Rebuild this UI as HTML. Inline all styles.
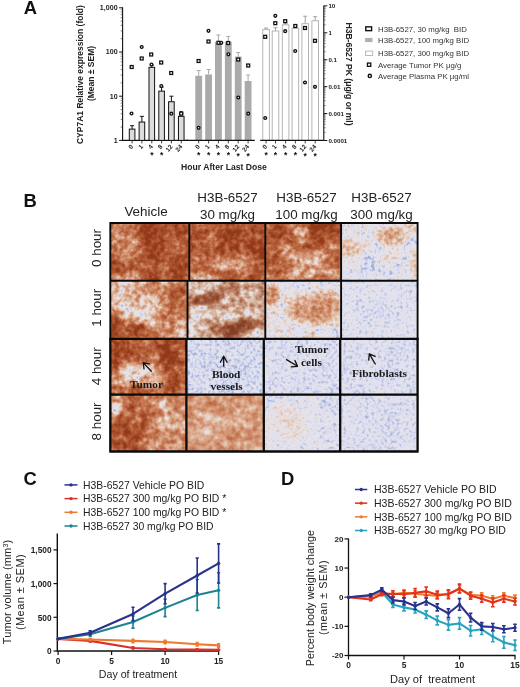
<!DOCTYPE html>
<html><head><meta charset="utf-8"><title>Figure</title>
<style>html,body{margin:0;padding:0;background:#fff}svg{display:block}</style></head>
<body>
<svg width="520" height="687" viewBox="0 0 520 687">
<rect width="520" height="687" fill="#fff"/>
<g id="panelA">
<text x="23.7" y="14.3" font-family="Liberation Sans, Arial, sans-serif" font-size="18.4" font-weight="bold" fill="#111">A</text>
<path d="M122.6 7.3V140.40000000000003H188" stroke="#111" stroke-width="1.1" fill="none"/>
<path d="M119.1 7.80H122.6" stroke="#111" stroke-width="1"/>
<text x="117.6" y="10.20" font-family="Liberation Sans, Arial, sans-serif" font-size="7.1" font-weight="bold" text-anchor="end" fill="#222">1,000</text>
<path d="M119.1 52.00H122.6" stroke="#111" stroke-width="1"/>
<text x="117.6" y="54.40" font-family="Liberation Sans, Arial, sans-serif" font-size="7.1" font-weight="bold" text-anchor="end" fill="#222">100</text>
<path d="M119.1 96.20H122.6" stroke="#111" stroke-width="1"/>
<text x="117.6" y="98.60" font-family="Liberation Sans, Arial, sans-serif" font-size="7.1" font-weight="bold" text-anchor="end" fill="#222">10</text>
<path d="M119.1 140.40H122.6" stroke="#111" stroke-width="1"/>
<text x="117.6" y="142.80" font-family="Liberation Sans, Arial, sans-serif" font-size="7.1" font-weight="bold" text-anchor="end" fill="#222">1</text>
<path d="M120.6 127.09H122.6M120.6 119.31H122.6M120.6 113.79H122.6M120.6 109.51H122.6M120.6 106.01H122.6M120.6 103.05H122.6M120.6 100.48H122.6M120.6 98.22H122.6M120.6 82.89H122.6M120.6 75.11H122.6M120.6 69.59H122.6M120.6 65.31H122.6M120.6 61.81H122.6M120.6 58.85H122.6M120.6 56.28H122.6M120.6 54.02H122.6M120.6 38.69H122.6M120.6 30.91H122.6M120.6 25.39H122.6M120.6 21.11H122.6M120.6 17.61H122.6M120.6 14.65H122.6M120.6 12.08H122.6M120.6 9.82H122.6" stroke="#333" stroke-width="0.6"/>
<text transform="translate(82.6,74.6) rotate(-90)" font-family="Liberation Sans, Arial, sans-serif" font-size="8.5" font-weight="bold" text-anchor="middle" fill="#222">CYP7A1 Relative expression (fold)</text>
<text transform="translate(94.1,73.5) rotate(-90)" font-family="Liberation Sans, Arial, sans-serif" font-size="8.5" font-weight="bold" text-anchor="middle" fill="#222">(Mean ± SEM)</text>
<path d="M132.10 129.12V125.71M130.10 125.71H134.10" stroke="#111" stroke-width="1"/>
<rect x="129.30" y="129.12" width="5.6" height="11.28" fill="#dcdcdc" stroke="#111" stroke-width="1"/>
<path d="M141.90 122.06V116.35M139.90 116.35H143.90" stroke="#111" stroke-width="1"/>
<rect x="139.10" y="122.06" width="5.6" height="18.34" fill="#dcdcdc" stroke="#111" stroke-width="1"/>
<path d="M151.80 67.33V65.31M149.80 65.31H153.80" stroke="#111" stroke-width="1"/>
<rect x="149.00" y="67.33" width="5.6" height="73.07" fill="#dcdcdc" stroke="#111" stroke-width="1"/>
<path d="M161.60 91.16V87.18M159.60 87.18H163.60" stroke="#111" stroke-width="1"/>
<rect x="158.80" y="91.16" width="5.6" height="49.24" fill="#dcdcdc" stroke="#111" stroke-width="1"/>
<path d="M171.40 101.72V96.20M169.40 96.20H173.40" stroke="#111" stroke-width="1"/>
<rect x="168.60" y="101.72" width="5.6" height="38.68" fill="#dcdcdc" stroke="#111" stroke-width="1"/>
<path d="M181.25 116.35V113.79M179.25 113.79H183.25" stroke="#111" stroke-width="1"/>
<rect x="178.45" y="116.35" width="5.6" height="24.05" fill="#dcdcdc" stroke="#111" stroke-width="1"/>
<path d="M198.70 75.80V70.50M196.70 70.50H200.70" stroke="#a9a9a9" stroke-width="1"/>
<rect x="195.30" y="75.80" width="6.8" height="64.60" fill="#aaaaaa"/>
<path d="M208.60 74.50V69.50M206.60 69.50H210.60" stroke="#a9a9a9" stroke-width="1"/>
<rect x="205.20" y="74.50" width="6.8" height="65.90" fill="#aaaaaa"/>
<path d="M218.40 41.80V35.00M216.40 35.00H220.40" stroke="#a9a9a9" stroke-width="1"/>
<rect x="215.00" y="41.80" width="6.8" height="98.60" fill="#aaaaaa"/>
<path d="M228.30 41.80V36.40M226.30 36.40H230.30" stroke="#a9a9a9" stroke-width="1"/>
<rect x="224.90" y="41.80" width="6.8" height="98.60" fill="#aaaaaa"/>
<path d="M238.20 56.60V52.50M236.20 52.50H240.20" stroke="#a9a9a9" stroke-width="1"/>
<rect x="234.80" y="56.60" width="6.8" height="83.80" fill="#aaaaaa"/>
<path d="M248.10 81.00V75.00M246.10 75.00H250.10" stroke="#a9a9a9" stroke-width="1"/>
<rect x="244.70" y="81.00" width="6.8" height="59.40" fill="#aaaaaa"/>
<path d="M266.10 29.60V28.00M264.10 28.00H268.10" stroke="#a0a0a0" stroke-width="1"/>
<rect x="262.80" y="29.60" width="6.6" height="110.80" fill="#fff" stroke="#adadad" stroke-width="0.9"/>
<path d="M275.50 31.00V27.70M273.50 27.70H277.50" stroke="#a0a0a0" stroke-width="1"/>
<rect x="272.20" y="31.00" width="6.6" height="109.40" fill="#fff" stroke="#adadad" stroke-width="0.9"/>
<path d="M285.60 24.80V22.90M283.60 22.90H287.60" stroke="#a0a0a0" stroke-width="1"/>
<rect x="282.30" y="24.80" width="6.6" height="115.60" fill="#fff" stroke="#adadad" stroke-width="0.9"/>
<path d="M295.40 28.30V26.50M293.40 26.50H297.40" stroke="#a0a0a0" stroke-width="1"/>
<rect x="292.10" y="28.30" width="6.6" height="112.10" fill="#fff" stroke="#adadad" stroke-width="0.9"/>
<path d="M305.20 23.70V16.20M303.20 16.20H307.20" stroke="#a0a0a0" stroke-width="1"/>
<rect x="301.90" y="23.70" width="6.6" height="116.70" fill="#fff" stroke="#adadad" stroke-width="0.9"/>
<path d="M315.20 20.70V16.70M313.20 16.70H317.20" stroke="#a0a0a0" stroke-width="1"/>
<rect x="311.90" y="20.70" width="6.6" height="119.70" fill="#fff" stroke="#adadad" stroke-width="0.9"/>
<path d="M186 140.40000000000003H254.8M260.2 140.40000000000003H323.8" stroke="#111" stroke-width="1.1"/>
<path d="M323.8 5.4V140.40000000000003" stroke="#111" stroke-width="1.1"/>
<path d="M323.8 5.90H327.3" stroke="#111" stroke-width="1"/>
<text x="328.40000000000003" y="8.10" font-family="Liberation Sans, Arial, sans-serif" font-size="6.2" font-weight="bold" fill="#222">10</text>
<path d="M323.8 32.82H327.3" stroke="#111" stroke-width="1"/>
<text x="328.40000000000003" y="35.02" font-family="Liberation Sans, Arial, sans-serif" font-size="6.2" font-weight="bold" fill="#222">1</text>
<path d="M323.8 59.74H327.3" stroke="#111" stroke-width="1"/>
<text x="328.40000000000003" y="61.94" font-family="Liberation Sans, Arial, sans-serif" font-size="6.2" font-weight="bold" fill="#222">0.1</text>
<path d="M323.8 86.66H327.3" stroke="#111" stroke-width="1"/>
<text x="328.40000000000003" y="88.86" font-family="Liberation Sans, Arial, sans-serif" font-size="6.2" font-weight="bold" fill="#222">0.01</text>
<path d="M323.8 113.58H327.3" stroke="#111" stroke-width="1"/>
<text x="328.40000000000003" y="115.78" font-family="Liberation Sans, Arial, sans-serif" font-size="6.2" font-weight="bold" fill="#222">0.001</text>
<path d="M323.8 140.50H327.3" stroke="#111" stroke-width="1"/>
<text x="328.40000000000003" y="142.70" font-family="Liberation Sans, Arial, sans-serif" font-size="6.2" font-weight="bold" fill="#222">0.0001</text>
<path d="M323.8 132.40H325.8M323.8 127.66H325.8M323.8 124.29H325.8M323.8 121.68H325.8M323.8 119.55H325.8M323.8 117.75H325.8M323.8 116.19H325.8M323.8 114.81H325.8M323.8 105.48H325.8M323.8 100.74H325.8M323.8 97.37H325.8M323.8 94.76H325.8M323.8 92.63H325.8M323.8 90.83H325.8M323.8 89.27H325.8M323.8 87.89H325.8M323.8 78.56H325.8M323.8 73.82H325.8M323.8 70.45H325.8M323.8 67.84H325.8M323.8 65.71H325.8M323.8 63.91H325.8M323.8 62.35H325.8M323.8 60.97H325.8M323.8 51.64H325.8M323.8 46.90H325.8M323.8 43.53H325.8M323.8 40.92H325.8M323.8 38.79H325.8M323.8 36.99H325.8M323.8 35.43H325.8M323.8 34.05H325.8M323.8 24.72H325.8M323.8 19.98H325.8M323.8 16.61H325.8M323.8 14.00H325.8M323.8 11.87H325.8M323.8 10.07H325.8M323.8 8.51H325.8M323.8 7.13H325.8" stroke="#333" stroke-width="0.5"/>
<text transform="translate(346.4,74) rotate(90)" font-family="Liberation Sans, Arial, sans-serif" font-size="8.6" font-weight="bold" text-anchor="middle" fill="#222">H3B-6527 PK (μg/g or ml)</text>
<path d="M132.10 140.40000000000003v3" stroke="#111" stroke-width="0.8"/>
<text transform="translate(133.60,146.90) rotate(-50)" font-family="Liberation Sans, Arial, sans-serif" font-size="6.3" font-weight="bold" text-anchor="end" fill="#222">0</text>
<path d="M141.90 140.40000000000003v3" stroke="#111" stroke-width="0.8"/>
<text transform="translate(143.40,146.90) rotate(-50)" font-family="Liberation Sans, Arial, sans-serif" font-size="6.3" font-weight="bold" text-anchor="end" fill="#222">1</text>
<path d="M151.80 140.40000000000003v3" stroke="#111" stroke-width="0.8"/>
<text transform="translate(153.30,146.90) rotate(-50)" font-family="Liberation Sans, Arial, sans-serif" font-size="6.3" font-weight="bold" text-anchor="end" fill="#222">4</text>
<text x="151.80" y="157.70" font-family="Liberation Sans, Arial, sans-serif" font-size="8.5" font-weight="bold" text-anchor="middle" fill="#111">*</text>
<path d="M161.60 140.40000000000003v3" stroke="#111" stroke-width="0.8"/>
<text transform="translate(163.10,146.90) rotate(-50)" font-family="Liberation Sans, Arial, sans-serif" font-size="6.3" font-weight="bold" text-anchor="end" fill="#222">8</text>
<text x="161.60" y="157.70" font-family="Liberation Sans, Arial, sans-serif" font-size="8.5" font-weight="bold" text-anchor="middle" fill="#111">*</text>
<path d="M171.40 140.40000000000003v3" stroke="#111" stroke-width="0.8"/>
<text transform="translate(172.90,146.90) rotate(-50)" font-family="Liberation Sans, Arial, sans-serif" font-size="6.3" font-weight="bold" text-anchor="end" fill="#222">12</text>
<path d="M181.25 140.40000000000003v3" stroke="#111" stroke-width="0.8"/>
<text transform="translate(182.75,146.90) rotate(-50)" font-family="Liberation Sans, Arial, sans-serif" font-size="6.3" font-weight="bold" text-anchor="end" fill="#222">24</text>
<path d="M198.70 140.40000000000003v3" stroke="#111" stroke-width="0.8"/>
<text transform="translate(200.20,146.90) rotate(-50)" font-family="Liberation Sans, Arial, sans-serif" font-size="6.3" font-weight="bold" text-anchor="end" fill="#222">0</text>
<text x="198.70" y="157.70" font-family="Liberation Sans, Arial, sans-serif" font-size="8.5" font-weight="bold" text-anchor="middle" fill="#111">*</text>
<path d="M208.60 140.40000000000003v3" stroke="#111" stroke-width="0.8"/>
<text transform="translate(210.10,146.90) rotate(-50)" font-family="Liberation Sans, Arial, sans-serif" font-size="6.3" font-weight="bold" text-anchor="end" fill="#222">1</text>
<text x="208.60" y="157.70" font-family="Liberation Sans, Arial, sans-serif" font-size="8.5" font-weight="bold" text-anchor="middle" fill="#111">*</text>
<path d="M218.40 140.40000000000003v3" stroke="#111" stroke-width="0.8"/>
<text transform="translate(219.90,146.90) rotate(-50)" font-family="Liberation Sans, Arial, sans-serif" font-size="6.3" font-weight="bold" text-anchor="end" fill="#222">4</text>
<text x="218.40" y="157.70" font-family="Liberation Sans, Arial, sans-serif" font-size="8.5" font-weight="bold" text-anchor="middle" fill="#111">*</text>
<path d="M228.30 140.40000000000003v3" stroke="#111" stroke-width="0.8"/>
<text transform="translate(229.80,146.90) rotate(-50)" font-family="Liberation Sans, Arial, sans-serif" font-size="6.3" font-weight="bold" text-anchor="end" fill="#222">8</text>
<text x="228.30" y="157.70" font-family="Liberation Sans, Arial, sans-serif" font-size="8.5" font-weight="bold" text-anchor="middle" fill="#111">*</text>
<path d="M238.20 140.40000000000003v3" stroke="#111" stroke-width="0.8"/>
<text transform="translate(239.70,146.90) rotate(-50)" font-family="Liberation Sans, Arial, sans-serif" font-size="6.3" font-weight="bold" text-anchor="end" fill="#222">12</text>
<text x="238.20" y="158.90" font-family="Liberation Sans, Arial, sans-serif" font-size="8.5" font-weight="bold" text-anchor="middle" fill="#111">*</text>
<path d="M248.10 140.40000000000003v3" stroke="#111" stroke-width="0.8"/>
<text transform="translate(249.60,146.90) rotate(-50)" font-family="Liberation Sans, Arial, sans-serif" font-size="6.3" font-weight="bold" text-anchor="end" fill="#222">24</text>
<text x="248.10" y="158.90" font-family="Liberation Sans, Arial, sans-serif" font-size="8.5" font-weight="bold" text-anchor="middle" fill="#111">*</text>
<path d="M266.10 140.40000000000003v3" stroke="#111" stroke-width="0.8"/>
<text transform="translate(267.60,146.90) rotate(-50)" font-family="Liberation Sans, Arial, sans-serif" font-size="6.3" font-weight="bold" text-anchor="end" fill="#222">0</text>
<text x="266.10" y="157.70" font-family="Liberation Sans, Arial, sans-serif" font-size="8.5" font-weight="bold" text-anchor="middle" fill="#111">*</text>
<path d="M275.50 140.40000000000003v3" stroke="#111" stroke-width="0.8"/>
<text transform="translate(277.00,146.90) rotate(-50)" font-family="Liberation Sans, Arial, sans-serif" font-size="6.3" font-weight="bold" text-anchor="end" fill="#222">1</text>
<text x="275.50" y="157.70" font-family="Liberation Sans, Arial, sans-serif" font-size="8.5" font-weight="bold" text-anchor="middle" fill="#111">*</text>
<path d="M285.60 140.40000000000003v3" stroke="#111" stroke-width="0.8"/>
<text transform="translate(287.10,146.90) rotate(-50)" font-family="Liberation Sans, Arial, sans-serif" font-size="6.3" font-weight="bold" text-anchor="end" fill="#222">4</text>
<text x="285.60" y="157.70" font-family="Liberation Sans, Arial, sans-serif" font-size="8.5" font-weight="bold" text-anchor="middle" fill="#111">*</text>
<path d="M295.40 140.40000000000003v3" stroke="#111" stroke-width="0.8"/>
<text transform="translate(296.90,146.90) rotate(-50)" font-family="Liberation Sans, Arial, sans-serif" font-size="6.3" font-weight="bold" text-anchor="end" fill="#222">8</text>
<text x="295.40" y="157.70" font-family="Liberation Sans, Arial, sans-serif" font-size="8.5" font-weight="bold" text-anchor="middle" fill="#111">*</text>
<path d="M305.20 140.40000000000003v3" stroke="#111" stroke-width="0.8"/>
<text transform="translate(306.70,146.90) rotate(-50)" font-family="Liberation Sans, Arial, sans-serif" font-size="6.3" font-weight="bold" text-anchor="end" fill="#222">12</text>
<text x="305.20" y="158.90" font-family="Liberation Sans, Arial, sans-serif" font-size="8.5" font-weight="bold" text-anchor="middle" fill="#111">*</text>
<path d="M315.20 140.40000000000003v3" stroke="#111" stroke-width="0.8"/>
<text transform="translate(316.70,146.90) rotate(-50)" font-family="Liberation Sans, Arial, sans-serif" font-size="6.3" font-weight="bold" text-anchor="end" fill="#222">24</text>
<text x="315.20" y="158.90" font-family="Liberation Sans, Arial, sans-serif" font-size="8.5" font-weight="bold" text-anchor="middle" fill="#111">*</text>
<text x="223.9" y="169.7" font-family="Liberation Sans, Arial, sans-serif" font-size="8.6" font-weight="bold" text-anchor="middle" fill="#222">Hour After Last Dose</text>
<rect x="130.25" y="65.55" width="2.9" height="2.9" fill="#fff" stroke="#111" stroke-width="1.3"/>
<rect x="140.25" y="57.05" width="2.9" height="2.9" fill="#fff" stroke="#111" stroke-width="1.3"/>
<rect x="149.75" y="53.05" width="2.9" height="2.9" fill="#fff" stroke="#111" stroke-width="1.3"/>
<rect x="159.75" y="61.05" width="2.9" height="2.9" fill="#fff" stroke="#111" stroke-width="1.3"/>
<rect x="169.75" y="71.55" width="2.9" height="2.9" fill="#fff" stroke="#111" stroke-width="1.3"/>
<circle cx="181.20" cy="113.20" r="1.38" fill="#fff" stroke="#111" stroke-width="1.4"/>
<rect x="179.70" y="112.10" width="3.0" height="3.0" fill="#fff" stroke="#111" stroke-width="1.3"/>
<circle cx="131.50" cy="113.50" r="1.38" fill="#fff" stroke="#111" stroke-width="1.4"/>
<circle cx="141.70" cy="47.00" r="1.38" fill="#fff" stroke="#111" stroke-width="1.4"/>
<circle cx="151.50" cy="64.50" r="1.38" fill="#fff" stroke="#111" stroke-width="1.4"/>
<circle cx="161.30" cy="86.00" r="1.38" fill="#fff" stroke="#111" stroke-width="1.4"/>
<circle cx="171.30" cy="113.70" r="1.38" fill="#fff" stroke="#111" stroke-width="1.4"/>
<rect x="197.15" y="59.55" width="2.9" height="2.9" fill="#fff" stroke="#111" stroke-width="1.3"/>
<rect x="207.05" y="40.05" width="2.9" height="2.9" fill="#fff" stroke="#111" stroke-width="1.3"/>
<rect x="217.05" y="41.35" width="2.9" height="2.9" fill="#fff" stroke="#111" stroke-width="1.3"/>
<rect x="226.75" y="41.55" width="2.9" height="2.9" fill="#fff" stroke="#111" stroke-width="1.3"/>
<rect x="236.75" y="58.05" width="2.9" height="2.9" fill="#fff" stroke="#111" stroke-width="1.3"/>
<rect x="246.75" y="64.05" width="2.9" height="2.9" fill="#fff" stroke="#111" stroke-width="1.3"/>
<circle cx="198.60" cy="127.80" r="1.38" fill="#fff" stroke="#111" stroke-width="1.4"/>
<circle cx="208.50" cy="30.80" r="1.38" fill="#fff" stroke="#111" stroke-width="1.4"/>
<circle cx="221.30" cy="42.80" r="1.38" fill="#fff" stroke="#111" stroke-width="1.4"/>
<circle cx="228.40" cy="54.30" r="1.38" fill="#fff" stroke="#111" stroke-width="1.4"/>
<circle cx="238.30" cy="97.50" r="1.38" fill="#fff" stroke="#111" stroke-width="1.4"/>
<circle cx="248.20" cy="113.70" r="1.38" fill="#fff" stroke="#111" stroke-width="1.4"/>
<rect x="263.75" y="35.35" width="2.9" height="2.9" fill="#fff" stroke="#111" stroke-width="1.3"/>
<rect x="273.85" y="21.75" width="2.9" height="2.9" fill="#fff" stroke="#111" stroke-width="1.3"/>
<rect x="283.75" y="19.75" width="2.9" height="2.9" fill="#fff" stroke="#111" stroke-width="1.3"/>
<rect x="293.85" y="24.55" width="2.9" height="2.9" fill="#fff" stroke="#111" stroke-width="1.3"/>
<rect x="303.55" y="26.55" width="2.9" height="2.9" fill="#fff" stroke="#111" stroke-width="1.3"/>
<rect x="313.55" y="39.35" width="2.9" height="2.9" fill="#fff" stroke="#111" stroke-width="1.3"/>
<circle cx="265.20" cy="118.00" r="1.38" fill="#fff" stroke="#111" stroke-width="1.4"/>
<circle cx="275.30" cy="15.80" r="1.38" fill="#fff" stroke="#111" stroke-width="1.4"/>
<circle cx="285.20" cy="31.20" r="1.38" fill="#fff" stroke="#111" stroke-width="1.4"/>
<circle cx="295.20" cy="51.00" r="1.38" fill="#fff" stroke="#111" stroke-width="1.4"/>
<circle cx="305.00" cy="82.50" r="1.38" fill="#fff" stroke="#111" stroke-width="1.4"/>
<circle cx="315.00" cy="86.80" r="1.38" fill="#fff" stroke="#111" stroke-width="1.4"/>
<rect x="365.8" y="26.85" width="5.8" height="3.8" fill="#fff" stroke="#111" stroke-width="1.4"/>
<rect x="365.1" y="37.9" width="7.4" height="4.2" fill="#b0b0b0"/>
<rect x="365.5" y="51.099999999999994" width="7.2" height="4.4" fill="#fff" stroke="#b5b5b5" stroke-width="0.9"/>
<rect x="367.45" y="63.05" width="3.3" height="3.3" fill="#fff" stroke="#111" stroke-width="1.3"/>
<circle cx="369.80" cy="75.90" r="1.6" fill="#fff" stroke="#111" stroke-width="1.4"/>
<text x="378" y="31.55" font-family="Liberation Sans, Arial, sans-serif" font-size="7.8" fill="#333" xml:space="preserve">H3B-6527, 30 mg/kg  BID</text>
<text x="378" y="42.90" font-family="Liberation Sans, Arial, sans-serif" font-size="7.8" fill="#333" xml:space="preserve">H3B-6527, 100 mg/kg BID</text>
<text x="378" y="56.10" font-family="Liberation Sans, Arial, sans-serif" font-size="7.8" fill="#333" xml:space="preserve">H3B-6527, 300 mg/kg BID</text>
<text x="378" y="67.50" font-family="Liberation Sans, Arial, sans-serif" font-size="7.8" fill="#333" xml:space="preserve">Average Tumor PK μg/g</text>
<text x="378" y="78.70" font-family="Liberation Sans, Arial, sans-serif" font-size="7.8" fill="#333" xml:space="preserve">Average Plasma PK μg/ml</text>
</g>
<g id="panelB">
<text x="23.6" y="206.8" font-family="Liberation Sans, Arial, sans-serif" font-size="18.4" font-weight="bold" fill="#111">B</text>
<defs><filter id="h0" filterUnits="userSpaceOnUse" x="110.3" y="223.0" width="79.00" height="57.80" color-interpolation-filters="sRGB">
<feTurbulence type="fractalNoise" baseFrequency="0.05" numOctaves="3" seed="3"/><feColorMatrix type="matrix" values="1 0 0 0 0 1 0 0 0 0 1 0 0 0 0 0 0 0 0 1" result="g1"/>
<feTurbulence type="fractalNoise" baseFrequency="0.2" numOctaves="2" seed="1"/><feColorMatrix type="matrix" values="1 0 0 0 0 1 0 0 0 0 1 0 0 0 0 0 0 0 0 1" result="g2"/>
<feComposite in="g1" in2="g2" operator="arithmetic" k1="0" k2="0.7" k3="0.75" k4="-0.225" result="n"/>
<feComposite in="n" in2="SourceGraphic" operator="arithmetic" k1="0" k2="1" k3="1" k4="-0.5"/>
<feComponentTransfer><feFuncR type="table" tableValues="0.573 0.604 0.635 0.662 0.686 0.710 0.735 0.761 0.786 0.812 0.834 0.857 0.876 0.890 0.900 0.905 0.902 0.887 0.830 0.748 0.647"/><feFuncG type="table" tableValues="0.227 0.257 0.286 0.315 0.344 0.373 0.414 0.455 0.502 0.549 0.603 0.658 0.713 0.770 0.822 0.866 0.888 0.893 0.846 0.775 0.686"/><feFuncB type="table" tableValues="0.106 0.127 0.148 0.173 0.200 0.227 0.271 0.314 0.365 0.416 0.479 0.542 0.615 0.701 0.784 0.863 0.916 0.949 0.929 0.892 0.843"/></feComponentTransfer>
<feGaussianBlur stdDeviation="0.45"/>
</filter>
<radialGradient id="e0_0"><stop offset="0" stop-color="#808080" stop-opacity="0.8"/><stop offset="0.55" stop-color="#808080" stop-opacity="0.60"/><stop offset="1" stop-color="#808080" stop-opacity="0"/></radialGradient>
<radialGradient id="e0_1"><stop offset="0" stop-color="#1a1a1a" stop-opacity="0.8"/><stop offset="0.55" stop-color="#1a1a1a" stop-opacity="0.60"/><stop offset="1" stop-color="#1a1a1a" stop-opacity="0"/></radialGradient>
<radialGradient id="e0_2"><stop offset="0" stop-color="#1f1f1f" stop-opacity="0.7"/><stop offset="0.55" stop-color="#1f1f1f" stop-opacity="0.52"/><stop offset="1" stop-color="#1f1f1f" stop-opacity="0"/></radialGradient>
<radialGradient id="e0_3"><stop offset="0" stop-color="#999999" stop-opacity="0.8"/><stop offset="0.55" stop-color="#999999" stop-opacity="0.60"/><stop offset="1" stop-color="#999999" stop-opacity="0"/></radialGradient>
<radialGradient id="e0_4"><stop offset="0" stop-color="#8c8c8c" stop-opacity="0.7"/><stop offset="0.55" stop-color="#8c8c8c" stop-opacity="0.52"/><stop offset="1" stop-color="#8c8c8c" stop-opacity="0"/></radialGradient>
<radialGradient id="e0_5"><stop offset="0" stop-color="#262626" stop-opacity="0.6"/><stop offset="0.55" stop-color="#262626" stop-opacity="0.45"/><stop offset="1" stop-color="#262626" stop-opacity="0"/></radialGradient>
<clipPath id="cp0"><rect x="110.3" y="223.0" width="79.00" height="57.80"/></clipPath>
<filter id="h1" filterUnits="userSpaceOnUse" x="189.3" y="223.0" width="76.00" height="57.80" color-interpolation-filters="sRGB">
<feTurbulence type="fractalNoise" baseFrequency="0.05" numOctaves="3" seed="10"/><feColorMatrix type="matrix" values="1 0 0 0 0 1 0 0 0 0 1 0 0 0 0 0 0 0 0 1" result="g1"/>
<feTurbulence type="fractalNoise" baseFrequency="0.2" numOctaves="2" seed="6"/><feColorMatrix type="matrix" values="1 0 0 0 0 1 0 0 0 0 1 0 0 0 0 0 0 0 0 1" result="g2"/>
<feComposite in="g1" in2="g2" operator="arithmetic" k1="0" k2="0.7" k3="0.75" k4="-0.225" result="n"/>
<feComposite in="n" in2="SourceGraphic" operator="arithmetic" k1="0" k2="1" k3="1" k4="-0.5"/>
<feComponentTransfer><feFuncR type="table" tableValues="0.573 0.604 0.635 0.662 0.686 0.710 0.735 0.761 0.786 0.812 0.834 0.857 0.876 0.890 0.900 0.905 0.902 0.887 0.830 0.748 0.647"/><feFuncG type="table" tableValues="0.227 0.257 0.286 0.315 0.344 0.373 0.414 0.455 0.502 0.549 0.603 0.658 0.713 0.770 0.822 0.866 0.888 0.893 0.846 0.775 0.686"/><feFuncB type="table" tableValues="0.106 0.127 0.148 0.173 0.200 0.227 0.271 0.314 0.365 0.416 0.479 0.542 0.615 0.701 0.784 0.863 0.916 0.949 0.929 0.892 0.843"/></feComponentTransfer>
<feGaussianBlur stdDeviation="0.45"/>
</filter>
<radialGradient id="e1_0"><stop offset="0" stop-color="#808080" stop-opacity="0.8"/><stop offset="0.55" stop-color="#808080" stop-opacity="0.60"/><stop offset="1" stop-color="#808080" stop-opacity="0"/></radialGradient>
<radialGradient id="e1_1"><stop offset="0" stop-color="#b8b8b8" stop-opacity="0.8"/><stop offset="0.55" stop-color="#b8b8b8" stop-opacity="0.60"/><stop offset="1" stop-color="#b8b8b8" stop-opacity="0"/></radialGradient>
<radialGradient id="e1_2"><stop offset="0" stop-color="#1a1a1a" stop-opacity="0.8"/><stop offset="0.55" stop-color="#1a1a1a" stop-opacity="0.60"/><stop offset="1" stop-color="#1a1a1a" stop-opacity="0"/></radialGradient>
<radialGradient id="e1_3"><stop offset="0" stop-color="#242424" stop-opacity="0.7"/><stop offset="0.55" stop-color="#242424" stop-opacity="0.52"/><stop offset="1" stop-color="#242424" stop-opacity="0"/></radialGradient>
<radialGradient id="e1_4"><stop offset="0" stop-color="#292929" stop-opacity="0.6"/><stop offset="0.55" stop-color="#292929" stop-opacity="0.45"/><stop offset="1" stop-color="#292929" stop-opacity="0"/></radialGradient>
<clipPath id="cp1"><rect x="189.3" y="223.0" width="76.00" height="57.80"/></clipPath>
<filter id="h2" filterUnits="userSpaceOnUse" x="265.3" y="223.0" width="75.80" height="57.80" color-interpolation-filters="sRGB">
<feTurbulence type="fractalNoise" baseFrequency="0.05" numOctaves="3" seed="17"/><feColorMatrix type="matrix" values="1 0 0 0 0 1 0 0 0 0 1 0 0 0 0 0 0 0 0 1" result="g1"/>
<feTurbulence type="fractalNoise" baseFrequency="0.2" numOctaves="2" seed="11"/><feColorMatrix type="matrix" values="1 0 0 0 0 1 0 0 0 0 1 0 0 0 0 0 0 0 0 1" result="g2"/>
<feComposite in="g1" in2="g2" operator="arithmetic" k1="0" k2="0.7" k3="0.75" k4="-0.225" result="n"/>
<feComposite in="n" in2="SourceGraphic" operator="arithmetic" k1="0" k2="1" k3="1" k4="-0.5"/>
<feComponentTransfer><feFuncR type="table" tableValues="0.573 0.604 0.635 0.662 0.686 0.710 0.735 0.761 0.786 0.812 0.834 0.857 0.876 0.890 0.900 0.905 0.902 0.887 0.830 0.748 0.647"/><feFuncG type="table" tableValues="0.227 0.257 0.286 0.315 0.344 0.373 0.414 0.455 0.502 0.549 0.603 0.658 0.713 0.770 0.822 0.866 0.888 0.893 0.846 0.775 0.686"/><feFuncB type="table" tableValues="0.106 0.127 0.148 0.173 0.200 0.227 0.271 0.314 0.365 0.416 0.479 0.542 0.615 0.701 0.784 0.863 0.916 0.949 0.929 0.892 0.843"/></feComponentTransfer>
<feGaussianBlur stdDeviation="0.45"/>
</filter>
<radialGradient id="e2_0"><stop offset="0" stop-color="#050505" stop-opacity="0.9"/><stop offset="0.55" stop-color="#050505" stop-opacity="0.68"/><stop offset="1" stop-color="#050505" stop-opacity="0"/></radialGradient>
<radialGradient id="e2_1"><stop offset="0" stop-color="#242424" stop-opacity="0.8"/><stop offset="0.55" stop-color="#242424" stop-opacity="0.60"/><stop offset="1" stop-color="#242424" stop-opacity="0"/></radialGradient>
<radialGradient id="e2_2"><stop offset="0" stop-color="#b2b2b2" stop-opacity="0.75"/><stop offset="0.55" stop-color="#b2b2b2" stop-opacity="0.56"/><stop offset="1" stop-color="#b2b2b2" stop-opacity="0"/></radialGradient>
<radialGradient id="e2_3"><stop offset="0" stop-color="#b2b2b2" stop-opacity="0.75"/><stop offset="0.55" stop-color="#b2b2b2" stop-opacity="0.56"/><stop offset="1" stop-color="#b2b2b2" stop-opacity="0"/></radialGradient>
<radialGradient id="e2_4"><stop offset="0" stop-color="#a8a8a8" stop-opacity="0.6"/><stop offset="0.55" stop-color="#a8a8a8" stop-opacity="0.45"/><stop offset="1" stop-color="#a8a8a8" stop-opacity="0"/></radialGradient>
<radialGradient id="e2_5"><stop offset="0" stop-color="#2e2e2e" stop-opacity="0.7"/><stop offset="0.55" stop-color="#2e2e2e" stop-opacity="0.52"/><stop offset="1" stop-color="#2e2e2e" stop-opacity="0"/></radialGradient>
<radialGradient id="e2_6"><stop offset="0" stop-color="#141414" stop-opacity="0.8"/><stop offset="0.55" stop-color="#141414" stop-opacity="0.60"/><stop offset="1" stop-color="#141414" stop-opacity="0"/></radialGradient>
<radialGradient id="e2_7"><stop offset="0" stop-color="#9e9e9e" stop-opacity="0.6"/><stop offset="0.55" stop-color="#9e9e9e" stop-opacity="0.45"/><stop offset="1" stop-color="#9e9e9e" stop-opacity="0"/></radialGradient>
<clipPath id="cp2"><rect x="265.3" y="223.0" width="75.80" height="57.80"/></clipPath>
<filter id="h3" filterUnits="userSpaceOnUse" x="341.1" y="223.0" width="76.50" height="57.80" color-interpolation-filters="sRGB">
<feTurbulence type="fractalNoise" baseFrequency="0.05" numOctaves="3" seed="24"/><feColorMatrix type="matrix" values="1 0 0 0 0 1 0 0 0 0 1 0 0 0 0 0 0 0 0 1" result="g1"/>
<feTurbulence type="fractalNoise" baseFrequency="0.28" numOctaves="2" seed="16"/><feColorMatrix type="matrix" values="1 0 0 0 0 1 0 0 0 0 1 0 0 0 0 0 0 0 0 1" result="g2"/>
<feComposite in="g1" in2="g2" operator="arithmetic" k1="0" k2="0.3" k3="0.5" k4="0.100" result="n"/>
<feComposite in="n" in2="SourceGraphic" operator="arithmetic" k1="0" k2="1" k3="1" k4="-0.5"/>
<feComponentTransfer><feFuncR type="table" tableValues="0.573 0.604 0.635 0.662 0.686 0.710 0.735 0.761 0.786 0.812 0.834 0.857 0.876 0.890 0.900 0.905 0.902 0.887 0.830 0.748 0.647"/><feFuncG type="table" tableValues="0.227 0.257 0.286 0.315 0.344 0.373 0.414 0.455 0.502 0.549 0.603 0.658 0.713 0.770 0.822 0.866 0.888 0.893 0.846 0.775 0.686"/><feFuncB type="table" tableValues="0.106 0.127 0.148 0.173 0.200 0.227 0.271 0.314 0.365 0.416 0.479 0.542 0.615 0.701 0.784 0.863 0.916 0.949 0.929 0.892 0.843"/></feComponentTransfer>
<feGaussianBlur stdDeviation="0.45"/>
</filter>
<radialGradient id="e3_0"><stop offset="0" stop-color="#7a7a7a" stop-opacity="0.85"/><stop offset="0.55" stop-color="#7a7a7a" stop-opacity="0.64"/><stop offset="1" stop-color="#7a7a7a" stop-opacity="0"/></radialGradient>
<radialGradient id="e3_1"><stop offset="0" stop-color="#a3a3a3" stop-opacity="0.7"/><stop offset="0.55" stop-color="#a3a3a3" stop-opacity="0.52"/><stop offset="1" stop-color="#a3a3a3" stop-opacity="0"/></radialGradient>
<radialGradient id="e3_2"><stop offset="0" stop-color="#8f8f8f" stop-opacity="0.7"/><stop offset="0.55" stop-color="#8f8f8f" stop-opacity="0.52"/><stop offset="1" stop-color="#8f8f8f" stop-opacity="0"/></radialGradient>
<radialGradient id="e3_3"><stop offset="0" stop-color="#999999" stop-opacity="0.6"/><stop offset="0.55" stop-color="#999999" stop-opacity="0.45"/><stop offset="1" stop-color="#999999" stop-opacity="0"/></radialGradient>
<clipPath id="cp3"><rect x="341.1" y="223.0" width="76.50" height="57.80"/></clipPath>
<filter id="h4" filterUnits="userSpaceOnUse" x="110.3" y="280.8" width="77.20" height="58.10" color-interpolation-filters="sRGB">
<feTurbulence type="fractalNoise" baseFrequency="0.05" numOctaves="3" seed="31"/><feColorMatrix type="matrix" values="1 0 0 0 0 1 0 0 0 0 1 0 0 0 0 0 0 0 0 1" result="g1"/>
<feTurbulence type="fractalNoise" baseFrequency="0.2" numOctaves="2" seed="21"/><feColorMatrix type="matrix" values="1 0 0 0 0 1 0 0 0 0 1 0 0 0 0 0 0 0 0 1" result="g2"/>
<feComposite in="g1" in2="g2" operator="arithmetic" k1="0" k2="0.9" k3="0.75" k4="-0.325" result="n"/>
<feComposite in="n" in2="SourceGraphic" operator="arithmetic" k1="0" k2="1" k3="1" k4="-0.5"/>
<feComponentTransfer><feFuncR type="table" tableValues="0.573 0.604 0.635 0.662 0.686 0.710 0.735 0.761 0.786 0.812 0.834 0.857 0.876 0.890 0.900 0.905 0.902 0.887 0.830 0.748 0.647"/><feFuncG type="table" tableValues="0.227 0.257 0.286 0.315 0.344 0.373 0.414 0.455 0.502 0.549 0.603 0.658 0.713 0.770 0.822 0.866 0.888 0.893 0.846 0.775 0.686"/><feFuncB type="table" tableValues="0.106 0.127 0.148 0.173 0.200 0.227 0.271 0.314 0.365 0.416 0.479 0.542 0.615 0.701 0.784 0.863 0.916 0.949 0.929 0.892 0.843"/></feComponentTransfer>
<feGaussianBlur stdDeviation="0.45"/>
</filter>
<radialGradient id="e4_0"><stop offset="0" stop-color="#bdbdbd" stop-opacity="0.85"/><stop offset="0.55" stop-color="#bdbdbd" stop-opacity="0.64"/><stop offset="1" stop-color="#bdbdbd" stop-opacity="0"/></radialGradient>
<radialGradient id="e4_1"><stop offset="0" stop-color="#262626" stop-opacity="0.9"/><stop offset="0.55" stop-color="#262626" stop-opacity="0.68"/><stop offset="1" stop-color="#262626" stop-opacity="0"/></radialGradient>
<radialGradient id="e4_2"><stop offset="0" stop-color="#4c4c4c" stop-opacity="0.8"/><stop offset="0.55" stop-color="#4c4c4c" stop-opacity="0.60"/><stop offset="1" stop-color="#4c4c4c" stop-opacity="0"/></radialGradient>
<radialGradient id="e4_3"><stop offset="0" stop-color="#8f8f8f" stop-opacity="0.6"/><stop offset="0.55" stop-color="#8f8f8f" stop-opacity="0.45"/><stop offset="1" stop-color="#8f8f8f" stop-opacity="0"/></radialGradient>
<radialGradient id="e4_4"><stop offset="0" stop-color="#383838" stop-opacity="0.8"/><stop offset="0.55" stop-color="#383838" stop-opacity="0.60"/><stop offset="1" stop-color="#383838" stop-opacity="0"/></radialGradient>
<radialGradient id="e4_5"><stop offset="0" stop-color="#b8b8b8" stop-opacity="0.7"/><stop offset="0.55" stop-color="#b8b8b8" stop-opacity="0.52"/><stop offset="1" stop-color="#b8b8b8" stop-opacity="0"/></radialGradient>
<radialGradient id="e4_6"><stop offset="0" stop-color="#b8b8b8" stop-opacity="0.7"/><stop offset="0.55" stop-color="#b8b8b8" stop-opacity="0.52"/><stop offset="1" stop-color="#b8b8b8" stop-opacity="0"/></radialGradient>
<radialGradient id="e4_7"><stop offset="0" stop-color="#404040" stop-opacity="0.5"/><stop offset="0.55" stop-color="#404040" stop-opacity="0.38"/><stop offset="1" stop-color="#404040" stop-opacity="0"/></radialGradient>
<clipPath id="cp4"><rect x="110.3" y="280.8" width="77.20" height="58.10"/></clipPath>
<filter id="h5" filterUnits="userSpaceOnUse" x="187.5" y="280.8" width="77.80" height="58.10" color-interpolation-filters="sRGB">
<feTurbulence type="fractalNoise" baseFrequency="0.05" numOctaves="3" seed="38"/><feColorMatrix type="matrix" values="1 0 0 0 0 1 0 0 0 0 1 0 0 0 0 0 0 0 0 1" result="g1"/>
<feTurbulence type="fractalNoise" baseFrequency="0.2" numOctaves="2" seed="26"/><feColorMatrix type="matrix" values="1 0 0 0 0 1 0 0 0 0 1 0 0 0 0 0 0 0 0 1" result="g2"/>
<feComposite in="g1" in2="g2" operator="arithmetic" k1="0" k2="0.9" k3="0.75" k4="-0.325" result="n"/>
<feComposite in="n" in2="SourceGraphic" operator="arithmetic" k1="0" k2="1" k3="1" k4="-0.5"/>
<feComponentTransfer><feFuncR type="table" tableValues="0.573 0.604 0.635 0.662 0.686 0.710 0.735 0.761 0.786 0.812 0.834 0.857 0.876 0.890 0.900 0.905 0.902 0.887 0.830 0.748 0.647"/><feFuncG type="table" tableValues="0.227 0.257 0.286 0.315 0.344 0.373 0.414 0.455 0.502 0.549 0.603 0.658 0.713 0.770 0.822 0.866 0.888 0.893 0.846 0.775 0.686"/><feFuncB type="table" tableValues="0.106 0.127 0.148 0.173 0.200 0.227 0.271 0.314 0.365 0.416 0.479 0.542 0.615 0.701 0.784 0.863 0.916 0.949 0.929 0.892 0.843"/></feComponentTransfer>
<feGaussianBlur stdDeviation="0.45"/><feColorMatrix type="saturate" values="0.78"/>
</filter>
<radialGradient id="e5_0"><stop offset="0" stop-color="#0d0d0d" stop-opacity="0.9"/><stop offset="0.55" stop-color="#0d0d0d" stop-opacity="0.68"/><stop offset="1" stop-color="#0d0d0d" stop-opacity="0"/></radialGradient>
<radialGradient id="e5_1"><stop offset="0" stop-color="#666666" stop-opacity="0.7"/><stop offset="0.55" stop-color="#666666" stop-opacity="0.52"/><stop offset="1" stop-color="#666666" stop-opacity="0"/></radialGradient>
<radialGradient id="e5_2"><stop offset="0" stop-color="#0d0d0d" stop-opacity="0.9"/><stop offset="0.55" stop-color="#0d0d0d" stop-opacity="0.68"/><stop offset="1" stop-color="#0d0d0d" stop-opacity="0"/></radialGradient>
<radialGradient id="e5_3"><stop offset="0" stop-color="#b8b8b8" stop-opacity="0.7"/><stop offset="0.55" stop-color="#b8b8b8" stop-opacity="0.52"/><stop offset="1" stop-color="#b8b8b8" stop-opacity="0"/></radialGradient>
<radialGradient id="e5_4"><stop offset="0" stop-color="#bfbfbf" stop-opacity="0.7"/><stop offset="0.55" stop-color="#bfbfbf" stop-opacity="0.52"/><stop offset="1" stop-color="#bfbfbf" stop-opacity="0"/></radialGradient>
<radialGradient id="e5_5"><stop offset="0" stop-color="#b8b8b8" stop-opacity="0.7"/><stop offset="0.55" stop-color="#b8b8b8" stop-opacity="0.52"/><stop offset="1" stop-color="#b8b8b8" stop-opacity="0"/></radialGradient>
<clipPath id="cp5"><rect x="187.5" y="280.8" width="77.80" height="58.10"/></clipPath>
<filter id="h6" filterUnits="userSpaceOnUse" x="265.3" y="280.8" width="75.80" height="58.10" color-interpolation-filters="sRGB">
<feTurbulence type="fractalNoise" baseFrequency="0.05" numOctaves="3" seed="45"/><feColorMatrix type="matrix" values="1 0 0 0 0 1 0 0 0 0 1 0 0 0 0 0 0 0 0 1" result="g1"/>
<feTurbulence type="fractalNoise" baseFrequency="0.25" numOctaves="2" seed="31"/><feColorMatrix type="matrix" values="1 0 0 0 0 1 0 0 0 0 1 0 0 0 0 0 0 0 0 1" result="g2"/>
<feComposite in="g1" in2="g2" operator="arithmetic" k1="0" k2="0.3" k3="0.55" k4="0.075" result="n"/>
<feComposite in="n" in2="SourceGraphic" operator="arithmetic" k1="0" k2="1" k3="1" k4="-0.5"/>
<feComponentTransfer><feFuncR type="table" tableValues="0.573 0.604 0.635 0.662 0.686 0.710 0.735 0.761 0.786 0.812 0.834 0.857 0.876 0.890 0.900 0.905 0.902 0.887 0.830 0.748 0.647"/><feFuncG type="table" tableValues="0.227 0.257 0.286 0.315 0.344 0.373 0.414 0.455 0.502 0.549 0.603 0.658 0.713 0.770 0.822 0.866 0.888 0.893 0.846 0.775 0.686"/><feFuncB type="table" tableValues="0.106 0.127 0.148 0.173 0.200 0.227 0.271 0.314 0.365 0.416 0.479 0.542 0.615 0.701 0.784 0.863 0.916 0.949 0.929 0.892 0.843"/></feComponentTransfer>
<feGaussianBlur stdDeviation="0.45"/>
</filter>
<radialGradient id="e6_0"><stop offset="0" stop-color="#6b6b6b" stop-opacity="0.92"/><stop offset="0.55" stop-color="#6b6b6b" stop-opacity="0.69"/><stop offset="1" stop-color="#6b6b6b" stop-opacity="0"/></radialGradient>
<radialGradient id="e6_1"><stop offset="0" stop-color="#5c5c5c" stop-opacity="0.85"/><stop offset="0.55" stop-color="#5c5c5c" stop-opacity="0.64"/><stop offset="1" stop-color="#5c5c5c" stop-opacity="0"/></radialGradient>
<radialGradient id="e6_2"><stop offset="0" stop-color="#999999" stop-opacity="0.5"/><stop offset="0.55" stop-color="#999999" stop-opacity="0.38"/><stop offset="1" stop-color="#999999" stop-opacity="0"/></radialGradient>
<radialGradient id="e6_3"><stop offset="0" stop-color="#b2b2b2" stop-opacity="0.5"/><stop offset="0.55" stop-color="#b2b2b2" stop-opacity="0.38"/><stop offset="1" stop-color="#b2b2b2" stop-opacity="0"/></radialGradient>
<clipPath id="cp6"><rect x="265.3" y="280.8" width="75.80" height="58.10"/></clipPath>
<filter id="h7" filterUnits="userSpaceOnUse" x="341.1" y="280.8" width="76.50" height="58.10" color-interpolation-filters="sRGB">
<feTurbulence type="fractalNoise" baseFrequency="0.05" numOctaves="3" seed="52"/><feColorMatrix type="matrix" values="1 0 0 0 0 1 0 0 0 0 1 0 0 0 0 0 0 0 0 1" result="g1"/>
<feTurbulence type="fractalNoise" baseFrequency="0.32" numOctaves="2" seed="36"/><feColorMatrix type="matrix" values="1 0 0 0 0 1 0 0 0 0 1 0 0 0 0 0 0 0 0 1" result="g2"/>
<feComposite in="g1" in2="g2" operator="arithmetic" k1="0" k2="0.1" k3="0.38" k4="0.260" result="n"/>
<feComposite in="n" in2="SourceGraphic" operator="arithmetic" k1="0" k2="1" k3="1" k4="-0.5"/>
<feComponentTransfer><feFuncR type="table" tableValues="0.573 0.604 0.635 0.662 0.686 0.710 0.735 0.761 0.786 0.812 0.834 0.857 0.876 0.890 0.900 0.905 0.902 0.887 0.830 0.748 0.647"/><feFuncG type="table" tableValues="0.227 0.257 0.286 0.315 0.344 0.373 0.414 0.455 0.502 0.549 0.603 0.658 0.713 0.770 0.822 0.866 0.888 0.893 0.846 0.775 0.686"/><feFuncB type="table" tableValues="0.106 0.127 0.148 0.173 0.200 0.227 0.271 0.314 0.365 0.416 0.479 0.542 0.615 0.701 0.784 0.863 0.916 0.949 0.929 0.892 0.843"/></feComponentTransfer>
<feGaussianBlur stdDeviation="0.45"/>
</filter>
<clipPath id="cp7"><rect x="341.1" y="280.8" width="76.50" height="58.10"/></clipPath>
<filter id="h8" filterUnits="userSpaceOnUse" x="110.3" y="338.9" width="76.10" height="55.70" color-interpolation-filters="sRGB">
<feTurbulence type="fractalNoise" baseFrequency="0.05" numOctaves="3" seed="59"/><feColorMatrix type="matrix" values="1 0 0 0 0 1 0 0 0 0 1 0 0 0 0 0 0 0 0 1" result="g1"/>
<feTurbulence type="fractalNoise" baseFrequency="0.2" numOctaves="2" seed="41"/><feColorMatrix type="matrix" values="1 0 0 0 0 1 0 0 0 0 1 0 0 0 0 0 0 0 0 1" result="g2"/>
<feComposite in="g1" in2="g2" operator="arithmetic" k1="0" k2="0.7" k3="0.75" k4="-0.225" result="n"/>
<feComposite in="n" in2="SourceGraphic" operator="arithmetic" k1="0" k2="1" k3="1" k4="-0.5"/>
<feComponentTransfer><feFuncR type="table" tableValues="0.573 0.604 0.635 0.662 0.686 0.710 0.735 0.761 0.786 0.812 0.834 0.857 0.876 0.890 0.900 0.905 0.902 0.887 0.830 0.748 0.647"/><feFuncG type="table" tableValues="0.227 0.257 0.286 0.315 0.344 0.373 0.414 0.455 0.502 0.549 0.603 0.658 0.713 0.770 0.822 0.866 0.888 0.893 0.846 0.775 0.686"/><feFuncB type="table" tableValues="0.106 0.127 0.148 0.173 0.200 0.227 0.271 0.314 0.365 0.416 0.479 0.542 0.615 0.701 0.784 0.863 0.916 0.949 0.929 0.892 0.843"/></feComponentTransfer>
<feGaussianBlur stdDeviation="0.45"/>
</filter>
<radialGradient id="e8_0"><stop offset="0" stop-color="#b2b2b2" stop-opacity="0.88"/><stop offset="0.55" stop-color="#b2b2b2" stop-opacity="0.66"/><stop offset="1" stop-color="#b2b2b2" stop-opacity="0"/></radialGradient>
<radialGradient id="e8_1"><stop offset="0" stop-color="#1f1f1f" stop-opacity="0.6"/><stop offset="0.55" stop-color="#1f1f1f" stop-opacity="0.45"/><stop offset="1" stop-color="#1f1f1f" stop-opacity="0"/></radialGradient>
<radialGradient id="e8_2"><stop offset="0" stop-color="#262626" stop-opacity="0.5"/><stop offset="0.55" stop-color="#262626" stop-opacity="0.38"/><stop offset="1" stop-color="#262626" stop-opacity="0"/></radialGradient>
<clipPath id="cp8"><rect x="110.3" y="338.9" width="76.10" height="55.70"/></clipPath>
<filter id="h9" filterUnits="userSpaceOnUse" x="186.4" y="338.9" width="77.40" height="55.70" color-interpolation-filters="sRGB">
<feTurbulence type="fractalNoise" baseFrequency="0.05" numOctaves="3" seed="66"/><feColorMatrix type="matrix" values="1 0 0 0 0 1 0 0 0 0 1 0 0 0 0 0 0 0 0 1" result="g1"/>
<feTurbulence type="fractalNoise" baseFrequency="0.32" numOctaves="2" seed="46"/><feColorMatrix type="matrix" values="1 0 0 0 0 1 0 0 0 0 1 0 0 0 0 0 0 0 0 1" result="g2"/>
<feComposite in="g1" in2="g2" operator="arithmetic" k1="0" k2="0.1" k3="0.4" k4="0.250" result="n"/>
<feComposite in="n" in2="SourceGraphic" operator="arithmetic" k1="0" k2="1" k3="1" k4="-0.5"/>
<feComponentTransfer><feFuncR type="table" tableValues="0.573 0.604 0.635 0.662 0.686 0.710 0.735 0.761 0.786 0.812 0.834 0.857 0.876 0.890 0.900 0.905 0.902 0.887 0.830 0.748 0.647"/><feFuncG type="table" tableValues="0.227 0.257 0.286 0.315 0.344 0.373 0.414 0.455 0.502 0.549 0.603 0.658 0.713 0.770 0.822 0.866 0.888 0.893 0.846 0.775 0.686"/><feFuncB type="table" tableValues="0.106 0.127 0.148 0.173 0.200 0.227 0.271 0.314 0.365 0.416 0.479 0.542 0.615 0.701 0.784 0.863 0.916 0.949 0.929 0.892 0.843"/></feComponentTransfer>
<feGaussianBlur stdDeviation="0.45"/>
</filter>
<clipPath id="cp9"><rect x="186.4" y="338.9" width="77.40" height="55.70"/></clipPath>
<filter id="h10" filterUnits="userSpaceOnUse" x="263.8" y="338.9" width="76.40" height="55.70" color-interpolation-filters="sRGB">
<feTurbulence type="fractalNoise" baseFrequency="0.05" numOctaves="3" seed="73"/><feColorMatrix type="matrix" values="1 0 0 0 0 1 0 0 0 0 1 0 0 0 0 0 0 0 0 1" result="g1"/>
<feTurbulence type="fractalNoise" baseFrequency="0.32" numOctaves="2" seed="51"/><feColorMatrix type="matrix" values="1 0 0 0 0 1 0 0 0 0 1 0 0 0 0 0 0 0 0 1" result="g2"/>
<feComposite in="g1" in2="g2" operator="arithmetic" k1="0" k2="0.1" k3="0.38" k4="0.260" result="n"/>
<feComposite in="n" in2="SourceGraphic" operator="arithmetic" k1="0" k2="1" k3="1" k4="-0.5"/>
<feComponentTransfer><feFuncR type="table" tableValues="0.573 0.604 0.635 0.662 0.686 0.710 0.735 0.761 0.786 0.812 0.834 0.857 0.876 0.890 0.900 0.905 0.902 0.887 0.830 0.748 0.647"/><feFuncG type="table" tableValues="0.227 0.257 0.286 0.315 0.344 0.373 0.414 0.455 0.502 0.549 0.603 0.658 0.713 0.770 0.822 0.866 0.888 0.893 0.846 0.775 0.686"/><feFuncB type="table" tableValues="0.106 0.127 0.148 0.173 0.200 0.227 0.271 0.314 0.365 0.416 0.479 0.542 0.615 0.701 0.784 0.863 0.916 0.949 0.929 0.892 0.843"/></feComponentTransfer>
<feGaussianBlur stdDeviation="0.45"/>
</filter>
<clipPath id="cp10"><rect x="263.8" y="338.9" width="76.40" height="55.70"/></clipPath>
<filter id="h11" filterUnits="userSpaceOnUse" x="340.2" y="338.9" width="77.40" height="55.70" color-interpolation-filters="sRGB">
<feTurbulence type="fractalNoise" baseFrequency="0.05" numOctaves="3" seed="80"/><feColorMatrix type="matrix" values="1 0 0 0 0 1 0 0 0 0 1 0 0 0 0 0 0 0 0 1" result="g1"/>
<feTurbulence type="fractalNoise" baseFrequency="0.32" numOctaves="2" seed="56"/><feColorMatrix type="matrix" values="1 0 0 0 0 1 0 0 0 0 1 0 0 0 0 0 0 0 0 1" result="g2"/>
<feComposite in="g1" in2="g2" operator="arithmetic" k1="0" k2="0.1" k3="0.38" k4="0.260" result="n"/>
<feComposite in="n" in2="SourceGraphic" operator="arithmetic" k1="0" k2="1" k3="1" k4="-0.5"/>
<feComponentTransfer><feFuncR type="table" tableValues="0.573 0.604 0.635 0.662 0.686 0.710 0.735 0.761 0.786 0.812 0.834 0.857 0.876 0.890 0.900 0.905 0.902 0.887 0.830 0.748 0.647"/><feFuncG type="table" tableValues="0.227 0.257 0.286 0.315 0.344 0.373 0.414 0.455 0.502 0.549 0.603 0.658 0.713 0.770 0.822 0.866 0.888 0.893 0.846 0.775 0.686"/><feFuncB type="table" tableValues="0.106 0.127 0.148 0.173 0.200 0.227 0.271 0.314 0.365 0.416 0.479 0.542 0.615 0.701 0.784 0.863 0.916 0.949 0.929 0.892 0.843"/></feComponentTransfer>
<feGaussianBlur stdDeviation="0.45"/>
</filter>
<clipPath id="cp11"><rect x="340.2" y="338.9" width="77.40" height="55.70"/></clipPath>
<filter id="h12" filterUnits="userSpaceOnUse" x="110.3" y="394.6" width="76.10" height="56.90" color-interpolation-filters="sRGB">
<feTurbulence type="fractalNoise" baseFrequency="0.05" numOctaves="3" seed="87"/><feColorMatrix type="matrix" values="1 0 0 0 0 1 0 0 0 0 1 0 0 0 0 0 0 0 0 1" result="g1"/>
<feTurbulence type="fractalNoise" baseFrequency="0.17" numOctaves="2" seed="61"/><feColorMatrix type="matrix" values="1 0 0 0 0 1 0 0 0 0 1 0 0 0 0 0 0 0 0 1" result="g2"/>
<feComposite in="g1" in2="g2" operator="arithmetic" k1="0" k2="0.5" k3="0.8" k4="-0.150" result="n"/>
<feComposite in="n" in2="SourceGraphic" operator="arithmetic" k1="0" k2="1" k3="1" k4="-0.5"/>
<feComponentTransfer><feFuncR type="table" tableValues="0.573 0.604 0.635 0.662 0.686 0.710 0.735 0.761 0.786 0.812 0.834 0.857 0.876 0.890 0.900 0.905 0.902 0.887 0.830 0.748 0.647"/><feFuncG type="table" tableValues="0.227 0.257 0.286 0.315 0.344 0.373 0.414 0.455 0.502 0.549 0.603 0.658 0.713 0.770 0.822 0.866 0.888 0.893 0.846 0.775 0.686"/><feFuncB type="table" tableValues="0.106 0.127 0.148 0.173 0.200 0.227 0.271 0.314 0.365 0.416 0.479 0.542 0.615 0.701 0.784 0.863 0.916 0.949 0.929 0.892 0.843"/></feComponentTransfer>
<feGaussianBlur stdDeviation="0.45"/>
</filter>
<radialGradient id="e12_0"><stop offset="0" stop-color="#1f1f1f" stop-opacity="0.88"/><stop offset="0.55" stop-color="#1f1f1f" stop-opacity="0.66"/><stop offset="1" stop-color="#1f1f1f" stop-opacity="0"/></radialGradient>
<radialGradient id="e12_1"><stop offset="0" stop-color="#d1d1d1" stop-opacity="0.9"/><stop offset="0.55" stop-color="#d1d1d1" stop-opacity="0.68"/><stop offset="1" stop-color="#d1d1d1" stop-opacity="0"/></radialGradient>
<radialGradient id="e12_2"><stop offset="0" stop-color="#d1d1d1" stop-opacity="0.9"/><stop offset="0.55" stop-color="#d1d1d1" stop-opacity="0.68"/><stop offset="1" stop-color="#d1d1d1" stop-opacity="0"/></radialGradient>
<radialGradient id="e12_3"><stop offset="0" stop-color="#adadad" stop-opacity="0.7"/><stop offset="0.55" stop-color="#adadad" stop-opacity="0.52"/><stop offset="1" stop-color="#adadad" stop-opacity="0"/></radialGradient>
<radialGradient id="e12_4"><stop offset="0" stop-color="#737373" stop-opacity="0.5"/><stop offset="0.55" stop-color="#737373" stop-opacity="0.38"/><stop offset="1" stop-color="#737373" stop-opacity="0"/></radialGradient>
<radialGradient id="e12_5"><stop offset="0" stop-color="#383838" stop-opacity="0.5"/><stop offset="0.55" stop-color="#383838" stop-opacity="0.38"/><stop offset="1" stop-color="#383838" stop-opacity="0"/></radialGradient>
<clipPath id="cp12"><rect x="110.3" y="394.6" width="76.10" height="56.90"/></clipPath>
<filter id="h13" filterUnits="userSpaceOnUse" x="186.4" y="394.6" width="77.40" height="56.90" color-interpolation-filters="sRGB">
<feTurbulence type="fractalNoise" baseFrequency="0.05" numOctaves="3" seed="94"/><feColorMatrix type="matrix" values="1 0 0 0 0 1 0 0 0 0 1 0 0 0 0 0 0 0 0 1" result="g1"/>
<feTurbulence type="fractalNoise" baseFrequency="0.17" numOctaves="2" seed="66"/><feColorMatrix type="matrix" values="1 0 0 0 0 1 0 0 0 0 1 0 0 0 0 0 0 0 0 1" result="g2"/>
<feComposite in="g1" in2="g2" operator="arithmetic" k1="0" k2="0.3" k3="0.5" k4="0.100" result="n"/>
<feComposite in="n" in2="SourceGraphic" operator="arithmetic" k1="0" k2="1" k3="1" k4="-0.5"/>
<feComponentTransfer><feFuncR type="table" tableValues="0.573 0.604 0.635 0.662 0.686 0.710 0.735 0.761 0.786 0.812 0.834 0.857 0.876 0.890 0.900 0.905 0.902 0.887 0.830 0.748 0.647"/><feFuncG type="table" tableValues="0.227 0.257 0.286 0.315 0.344 0.373 0.414 0.455 0.502 0.549 0.603 0.658 0.713 0.770 0.822 0.866 0.888 0.893 0.846 0.775 0.686"/><feFuncB type="table" tableValues="0.106 0.127 0.148 0.173 0.200 0.227 0.271 0.314 0.365 0.416 0.479 0.542 0.615 0.701 0.784 0.863 0.916 0.949 0.929 0.892 0.843"/></feComponentTransfer>
<feGaussianBlur stdDeviation="0.45"/>
</filter>
<radialGradient id="e13_0"><stop offset="0" stop-color="#b2b2b2" stop-opacity="0.7"/><stop offset="0.55" stop-color="#b2b2b2" stop-opacity="0.52"/><stop offset="1" stop-color="#b2b2b2" stop-opacity="0"/></radialGradient>
<radialGradient id="e13_1"><stop offset="0" stop-color="#b2b2b2" stop-opacity="0.6"/><stop offset="0.55" stop-color="#b2b2b2" stop-opacity="0.45"/><stop offset="1" stop-color="#b2b2b2" stop-opacity="0"/></radialGradient>
<radialGradient id="e13_2"><stop offset="0" stop-color="#4c4c4c" stop-opacity="0.6"/><stop offset="0.55" stop-color="#4c4c4c" stop-opacity="0.45"/><stop offset="1" stop-color="#4c4c4c" stop-opacity="0"/></radialGradient>
<radialGradient id="e13_3"><stop offset="0" stop-color="#707070" stop-opacity="0.5"/><stop offset="0.55" stop-color="#707070" stop-opacity="0.38"/><stop offset="1" stop-color="#707070" stop-opacity="0"/></radialGradient>
<clipPath id="cp13"><rect x="186.4" y="394.6" width="77.40" height="56.90"/></clipPath>
<filter id="h14" filterUnits="userSpaceOnUse" x="263.8" y="394.6" width="76.40" height="56.90" color-interpolation-filters="sRGB">
<feTurbulence type="fractalNoise" baseFrequency="0.05" numOctaves="3" seed="101"/><feColorMatrix type="matrix" values="1 0 0 0 0 1 0 0 0 0 1 0 0 0 0 0 0 0 0 1" result="g1"/>
<feTurbulence type="fractalNoise" baseFrequency="0.3" numOctaves="2" seed="71"/><feColorMatrix type="matrix" values="1 0 0 0 0 1 0 0 0 0 1 0 0 0 0 0 0 0 0 1" result="g2"/>
<feComposite in="g1" in2="g2" operator="arithmetic" k1="0" k2="0.2" k3="0.4" k4="0.200" result="n"/>
<feComposite in="n" in2="SourceGraphic" operator="arithmetic" k1="0" k2="1" k3="1" k4="-0.5"/>
<feComponentTransfer><feFuncR type="table" tableValues="0.573 0.604 0.635 0.662 0.686 0.710 0.735 0.761 0.786 0.812 0.834 0.857 0.876 0.890 0.900 0.905 0.902 0.887 0.830 0.748 0.647"/><feFuncG type="table" tableValues="0.227 0.257 0.286 0.315 0.344 0.373 0.414 0.455 0.502 0.549 0.603 0.658 0.713 0.770 0.822 0.866 0.888 0.893 0.846 0.775 0.686"/><feFuncB type="table" tableValues="0.106 0.127 0.148 0.173 0.200 0.227 0.271 0.314 0.365 0.416 0.479 0.542 0.615 0.701 0.784 0.863 0.916 0.949 0.929 0.892 0.843"/></feComponentTransfer>
<feGaussianBlur stdDeviation="0.45"/>
</filter>
<radialGradient id="e14_0"><stop offset="0" stop-color="#adadad" stop-opacity="0.7"/><stop offset="0.55" stop-color="#adadad" stop-opacity="0.52"/><stop offset="1" stop-color="#adadad" stop-opacity="0"/></radialGradient>
<clipPath id="cp14"><rect x="263.8" y="394.6" width="76.40" height="56.90"/></clipPath>
<filter id="h15" filterUnits="userSpaceOnUse" x="340.2" y="394.6" width="77.40" height="56.90" color-interpolation-filters="sRGB">
<feTurbulence type="fractalNoise" baseFrequency="0.05" numOctaves="3" seed="108"/><feColorMatrix type="matrix" values="1 0 0 0 0 1 0 0 0 0 1 0 0 0 0 0 0 0 0 1" result="g1"/>
<feTurbulence type="fractalNoise" baseFrequency="0.32" numOctaves="2" seed="76"/><feColorMatrix type="matrix" values="1 0 0 0 0 1 0 0 0 0 1 0 0 0 0 0 0 0 0 1" result="g2"/>
<feComposite in="g1" in2="g2" operator="arithmetic" k1="0" k2="0.1" k3="0.38" k4="0.260" result="n"/>
<feComposite in="n" in2="SourceGraphic" operator="arithmetic" k1="0" k2="1" k3="1" k4="-0.5"/>
<feComponentTransfer><feFuncR type="table" tableValues="0.573 0.604 0.635 0.662 0.686 0.710 0.735 0.761 0.786 0.812 0.834 0.857 0.876 0.890 0.900 0.905 0.902 0.887 0.830 0.748 0.647"/><feFuncG type="table" tableValues="0.227 0.257 0.286 0.315 0.344 0.373 0.414 0.455 0.502 0.549 0.603 0.658 0.713 0.770 0.822 0.866 0.888 0.893 0.846 0.775 0.686"/><feFuncB type="table" tableValues="0.106 0.127 0.148 0.173 0.200 0.227 0.271 0.314 0.365 0.416 0.479 0.542 0.615 0.701 0.784 0.863 0.916 0.949 0.929 0.892 0.843"/></feComponentTransfer>
<feGaussianBlur stdDeviation="0.45"/>
</filter>
<clipPath id="cp15"><rect x="340.2" y="394.6" width="77.40" height="56.90"/></clipPath></defs>
<g filter="url(#h0)"><g clip-path="url(#cp0)"><rect x="110.3" y="223.0" width="79.00" height="57.80" fill="#383838"/><ellipse cx="126.1" cy="249.0" rx="19.9" ry="17.8" fill="url(#e0_0)" transform="rotate(0 126.1 249.0)"/><ellipse cx="165.6" cy="251.9" rx="31.0" ry="20.2" fill="url(#e0_1)" transform="rotate(0 165.6 251.9)"/><ellipse cx="153.8" cy="276.2" rx="33.2" ry="9.7" fill="url(#e0_2)" transform="rotate(0 153.8 276.2)"/><ellipse cx="122.2" cy="277.9" rx="27.7" ry="8.1" fill="url(#e0_3)" transform="rotate(0 122.2 277.9)"/><ellipse cx="114.2" cy="228.8" rx="13.3" ry="16.2" fill="url(#e0_4)" transform="rotate(0 114.2 228.8)"/><ellipse cx="149.8" cy="229.9" rx="27.7" ry="9.7" fill="url(#e0_5)" transform="rotate(0 149.8 229.9)"/></g></g>
<g filter="url(#h1)"><g clip-path="url(#cp1)"><rect x="189.3" y="223.0" width="76.00" height="57.80" fill="#3b3b3b"/><ellipse cx="223.5" cy="262.3" rx="34.0" ry="12.9" fill="url(#e1_0)" transform="rotate(0 223.5 262.3)"/><ellipse cx="198.4" cy="277.9" rx="21.3" ry="8.1" fill="url(#e1_1)" transform="rotate(0 198.4 277.9)"/><ellipse cx="246.3" cy="234.6" rx="31.9" ry="17.8" fill="url(#e1_2)" transform="rotate(0 246.3 234.6)"/><ellipse cx="259.2" cy="263.5" rx="12.8" ry="24.3" fill="url(#e1_3)" transform="rotate(0 259.2 263.5)"/><ellipse cx="204.5" cy="240.3" rx="21.3" ry="16.2" fill="url(#e1_4)" transform="rotate(0 204.5 240.3)"/></g></g>
<g filter="url(#h2)"><g clip-path="url(#cp2)"><rect x="265.3" y="223.0" width="75.80" height="57.80" fill="#545454"/><ellipse cx="325.9" cy="231.7" rx="29.7" ry="16.2" fill="url(#e2_0)" transform="rotate(0 325.9 231.7)"/><ellipse cx="280.5" cy="237.4" rx="21.2" ry="12.1" fill="url(#e2_1)" transform="rotate(0 280.5 237.4)"/><ellipse cx="310.8" cy="257.7" rx="26.5" ry="11.3" fill="url(#e2_2)" transform="rotate(0 310.8 257.7)"/><ellipse cx="301.7" cy="234.6" rx="10.6" ry="9.7" fill="url(#e2_3)" transform="rotate(0 301.7 234.6)"/><ellipse cx="295.6" cy="273.9" rx="26.5" ry="8.1" fill="url(#e2_4)" transform="rotate(0 295.6 273.9)"/><ellipse cx="276.7" cy="266.4" rx="19.1" ry="16.2" fill="url(#e2_5)" transform="rotate(0 276.7 266.4)"/><ellipse cx="333.5" cy="262.3" rx="12.7" ry="8.1" fill="url(#e2_6)" transform="rotate(0 333.5 262.3)"/><ellipse cx="291.8" cy="251.9" rx="12.7" ry="9.7" fill="url(#e2_7)" transform="rotate(0 291.8 251.9)"/></g></g>
<g filter="url(#h3)"><g clip-path="url(#cp3)"><rect x="341.1" y="223.0" width="76.50" height="57.80" fill="#d1d1d1"/><ellipse cx="392.4" cy="235.7" rx="21.4" ry="12.1" fill="url(#e3_0)" transform="rotate(0 392.4 235.7)"/><ellipse cx="352.6" cy="247.3" rx="21.4" ry="10.5" fill="url(#e3_1)" transform="rotate(0 352.6 247.3)"/><ellipse cx="415.3" cy="263.5" rx="8.6" ry="20.2" fill="url(#e3_2)" transform="rotate(0 415.3 263.5)"/><ellipse cx="408.4" cy="228.8" rx="12.9" ry="8.1" fill="url(#e3_3)" transform="rotate(0 408.4 228.8)"/></g></g>
<g filter="url(#h4)"><g clip-path="url(#cp4)"><rect x="110.3" y="280.8" width="77.20" height="58.10" fill="#858585"/><ellipse cx="129.6" cy="293.6" rx="32.4" ry="20.3" fill="url(#e4_0)" transform="rotate(0 129.6 293.6)"/><ellipse cx="121.9" cy="330.2" rx="27.0" ry="20.3" fill="url(#e4_1)" transform="rotate(0 121.9 330.2)"/><ellipse cx="178.2" cy="304.0" rx="19.5" ry="24.4" fill="url(#e4_2)" transform="rotate(0 178.2 304.0)"/><ellipse cx="152.8" cy="295.3" rx="16.2" ry="12.2" fill="url(#e4_3)" transform="rotate(0 152.8 295.3)"/><ellipse cx="160.5" cy="333.1" rx="27.0" ry="10.6" fill="url(#e4_4)" transform="rotate(0 160.5 333.1)"/><ellipse cx="141.2" cy="315.7" rx="13.0" ry="9.8" fill="url(#e4_5)" transform="rotate(0 141.2 315.7)"/><ellipse cx="182.1" cy="331.9" rx="10.8" ry="12.2" fill="url(#e4_6)" transform="rotate(0 182.1 331.9)"/><ellipse cx="145.0" cy="309.9" rx="32.4" ry="6.5" fill="url(#e4_7)" transform="rotate(35 145.0 309.9)"/></g></g>
<g filter="url(#h5)"><g clip-path="url(#cp5)"><rect x="187.5" y="280.8" width="77.80" height="58.10" fill="#8f8f8f"/><ellipse cx="210.8" cy="297.1" rx="27.2" ry="8.1" fill="url(#e5_0)" transform="rotate(-20 210.8 297.1)"/><ellipse cx="245.9" cy="298.2" rx="27.2" ry="14.6" fill="url(#e5_1)" transform="rotate(0 245.9 298.2)"/><ellipse cx="234.2" cy="327.3" rx="32.7" ry="10.6" fill="url(#e5_2)" transform="rotate(-8 234.2 327.3)"/><ellipse cx="203.1" cy="320.3" rx="27.2" ry="13.8" fill="url(#e5_3)" transform="rotate(0 203.1 320.3)"/><ellipse cx="191.4" cy="286.6" rx="10.9" ry="12.2" fill="url(#e5_4)" transform="rotate(0 191.4 286.6)"/><ellipse cx="261.4" cy="334.3" rx="10.9" ry="9.8" fill="url(#e5_5)" transform="rotate(0 261.4 334.3)"/></g></g>
<g filter="url(#h6)"><g clip-path="url(#cp6)"><rect x="265.3" y="280.8" width="75.80" height="58.10" fill="#d1d1d1"/><ellipse cx="316.8" cy="308.7" rx="38.2" ry="22.0" fill="url(#e6_0)" transform="rotate(0 316.8 308.7)"/><ellipse cx="271.4" cy="295.3" rx="10.6" ry="13.8" fill="url(#e6_1)" transform="rotate(0 271.4 295.3)"/><ellipse cx="280.5" cy="309.9" rx="12.7" ry="8.1" fill="url(#e6_2)" transform="rotate(0 280.5 309.9)"/><ellipse cx="291.8" cy="334.3" rx="31.8" ry="8.1" fill="url(#e6_3)" transform="rotate(0 291.8 334.3)"/></g></g>
<g filter="url(#h7)"><g clip-path="url(#cp7)"><rect x="341.1" y="280.8" width="76.50" height="58.10" fill="#dbdbdb"/></g></g>
<g filter="url(#h8)"><g clip-path="url(#cp8)"><rect x="110.3" y="338.9" width="76.10" height="55.70" fill="#383838"/><ellipse cx="140.7" cy="375.7" rx="38.4" ry="15.6" fill="url(#e8_0)" transform="rotate(0 140.7 375.7)"/><ellipse cx="177.3" cy="361.2" rx="19.2" ry="27.3" fill="url(#e8_1)" transform="rotate(0 177.3 361.2)"/><ellipse cx="140.7" cy="344.5" rx="37.3" ry="7.8" fill="url(#e8_2)" transform="rotate(0 140.7 344.5)"/></g></g>
<g filter="url(#h9)"><g clip-path="url(#cp9)"><rect x="186.4" y="338.9" width="77.40" height="55.70" fill="#e2e2e2"/></g></g>
<g filter="url(#h10)"><g clip-path="url(#cp10)"><rect x="263.8" y="338.9" width="76.40" height="55.70" fill="#dddddd"/></g></g>
<g filter="url(#h11)"><g clip-path="url(#cp11)"><rect x="340.2" y="338.9" width="77.40" height="55.70" fill="#dddddd"/></g></g>
<g filter="url(#h12)"><g clip-path="url(#cp12)"><rect x="110.3" y="394.6" width="76.10" height="56.90" fill="#6b6b6b"/><ellipse cx="125.5" cy="431.6" rx="29.8" ry="30.3" fill="url(#e12_0)" transform="rotate(0 125.5 431.6)"/><ellipse cx="117.1" cy="408.8" rx="6.4" ry="8.0" fill="url(#e12_1)" transform="rotate(0 117.1 408.8)"/><ellipse cx="165.1" cy="406.0" rx="7.5" ry="9.6" fill="url(#e12_2)" transform="rotate(0 165.1 406.0)"/><ellipse cx="171.2" cy="424.2" rx="23.4" ry="14.3" fill="url(#e12_3)" transform="rotate(0 171.2 424.2)"/><ellipse cx="159.8" cy="443.0" rx="21.3" ry="11.9" fill="url(#e12_4)" transform="rotate(0 159.8 443.0)"/><ellipse cx="142.3" cy="400.3" rx="19.2" ry="8.0" fill="url(#e12_5)" transform="rotate(0 142.3 400.3)"/></g></g>
<g filter="url(#h13)"><g clip-path="url(#cp13)"><rect x="186.4" y="394.6" width="77.40" height="56.90" fill="#808080"/><ellipse cx="225.1" cy="420.2" rx="54.2" ry="5.6" fill="url(#e13_0)" transform="rotate(12 225.1 420.2)"/><ellipse cx="198.0" cy="431.6" rx="16.3" ry="11.9" fill="url(#e13_1)" transform="rotate(0 198.0 431.6)"/><ellipse cx="209.6" cy="407.1" rx="13.0" ry="8.0" fill="url(#e13_2)" transform="rotate(0 209.6 407.1)"/><ellipse cx="244.5" cy="437.3" rx="27.1" ry="11.9" fill="url(#e13_3)" transform="rotate(0 244.5 437.3)"/></g></g>
<g filter="url(#h14)"><g clip-path="url(#cp14)"><rect x="263.8" y="394.6" width="76.40" height="56.90" fill="#d9d9d9"/><ellipse cx="290.5" cy="423.1" rx="32.1" ry="23.9" fill="url(#e14_0)" transform="rotate(0 290.5 423.1)"/></g></g>
<g filter="url(#h15)"><g clip-path="url(#cp15)"><rect x="340.2" y="394.6" width="77.40" height="56.90" fill="#dddddd"/></g></g>
<path d="M110.3 222.3V281.5M189.3 222.3V281.5M265.3 222.3V281.5M341.1 222.3V281.5M417.6 222.3V281.5M110.3 280.1V339.59999999999997M187.5 280.1V339.59999999999997M265.3 280.1V339.59999999999997M341.1 280.1V339.59999999999997M417.6 280.1V339.59999999999997M109.39999999999999 223.0H418.5M109.39999999999999 280.8H418.5" stroke="#0a0a0a" stroke-width="1.9" fill="none"/>
<path d="M110.3 338.2V395.3M186.4 338.2V395.3M263.8 338.2V395.3M340.2 338.2V395.3M417.6 338.2V395.3M110.3 393.90000000000003V452.2M186.4 393.90000000000003V452.2M263.8 393.90000000000003V452.2M340.2 393.90000000000003V452.2M417.6 393.90000000000003V452.2M109.39999999999999 338.9H418.5M109.39999999999999 394.6H418.5M109.39999999999999 451.5H418.5" stroke="#0a0a0a" stroke-width="2.3" fill="none"/>
<text x="146" y="216.3" font-family="Liberation Sans, Arial, sans-serif" font-size="13.4" text-anchor="middle" fill="#222">Vehicle</text>
<text x="227.5" y="202" font-family="Liberation Sans, Arial, sans-serif" font-size="13.4" text-anchor="middle" fill="#222">H3B-6527</text>
<text x="227.5" y="218.5" font-family="Liberation Sans, Arial, sans-serif" font-size="13.4" text-anchor="middle" fill="#222">30 mg/kg</text>
<text x="306.5" y="202" font-family="Liberation Sans, Arial, sans-serif" font-size="13.4" text-anchor="middle" fill="#222">H3B-6527</text>
<text x="306.5" y="218.5" font-family="Liberation Sans, Arial, sans-serif" font-size="13.4" text-anchor="middle" fill="#222">100 mg/kg</text>
<text x="381.5" y="202" font-family="Liberation Sans, Arial, sans-serif" font-size="13.4" text-anchor="middle" fill="#222">H3B-6527</text>
<text x="381.5" y="218.5" font-family="Liberation Sans, Arial, sans-serif" font-size="13.4" text-anchor="middle" fill="#222">300 mg/kg</text>
<text transform="translate(101.1,248) rotate(-90)" font-family="Liberation Sans, Arial, sans-serif" font-size="13.4" text-anchor="middle" fill="#222">0 hour</text>
<text transform="translate(101.1,307.8) rotate(-90)" font-family="Liberation Sans, Arial, sans-serif" font-size="13.4" text-anchor="middle" fill="#222">1 hour</text>
<text transform="translate(101.1,366.3) rotate(-90)" font-family="Liberation Sans, Arial, sans-serif" font-size="13.4" text-anchor="middle" fill="#222">4 hour</text>
<text transform="translate(101.1,421.4) rotate(-90)" font-family="Liberation Sans, Arial, sans-serif" font-size="13.4" text-anchor="middle" fill="#222">8 hour</text>
<text x="146.5" y="387.6" font-family="Liberation Serif, Times New Roman, serif" font-weight="bold" font-size="11.4" fill="#1a1a1a" text-anchor="middle">Tumor</text>
<text x="226.2" y="378" font-family="Liberation Serif, Times New Roman, serif" font-weight="bold" font-size="11.4" fill="#1a1a1a" text-anchor="middle">Blood</text>
<text x="226.6" y="390.2" font-family="Liberation Serif, Times New Roman, serif" font-weight="bold" font-size="11.4" fill="#1a1a1a" text-anchor="middle">vessels</text>
<text x="311.5" y="353" font-family="Liberation Serif, Times New Roman, serif" font-weight="bold" font-size="11.4" fill="#1a1a1a" text-anchor="middle">Tumor</text>
<text x="311.5" y="366" font-family="Liberation Serif, Times New Roman, serif" font-weight="bold" font-size="11.4" fill="#1a1a1a" text-anchor="middle">cells</text>
<text x="379.5" y="376.8" font-family="Liberation Serif, Times New Roman, serif" font-weight="bold" font-size="11.4" fill="#1a1a1a" text-anchor="middle">Fibroblasts</text>
<path d="M151.3 371.3L143.2 362.6M144.0 368.8L143.2 362.6L149.4 363.9" stroke="#111" stroke-width="1.3" fill="none" stroke-linecap="round" stroke-linejoin="round"/>
<path d="M223.7 366.2L223.7 356.2M220.3 362.3L223.7 356.2L227.1 362.3" stroke="#111" stroke-width="1.3" fill="none" stroke-linecap="round" stroke-linejoin="round"/>
<path d="M286.5 359.6L297.5 366.3M295.0 360.5L297.5 366.3L291.2 366.8" stroke="#111" stroke-width="1.3" fill="none" stroke-linecap="round" stroke-linejoin="round"/>
<path d="M375.3 364.0L369.3 353.8M368.7 360.1L369.3 353.8L375.1 356.4" stroke="#111" stroke-width="1.3" fill="none" stroke-linecap="round" stroke-linejoin="round"/>
</g>
<g id="panelC">
<text x="23.6" y="484.9" font-family="Liberation Sans, Arial, sans-serif" font-size="18.4" font-weight="bold" fill="#111">C</text>
<path d="M64.5 484.9H77.5" stroke="#2a328c" stroke-width="1.5"/><circle cx="71" cy="484.9" r="1.7" fill="#2a328c"/>
<text x="83" y="488.70" font-family="Liberation Sans, Arial, sans-serif" font-size="10.4" fill="#222">H3B-6527 Vehicle PO BID</text>
<path d="M64.5 498.59999999999997H77.5" stroke="#d8312a" stroke-width="1.5"/><circle cx="71" cy="498.59999999999997" r="1.7" fill="#d8312a"/>
<text x="83" y="502.40" font-family="Liberation Sans, Arial, sans-serif" font-size="10.4" fill="#222">H3B-6527 300 mg/kg PO BID *</text>
<path d="M64.5 512.3H77.5" stroke="#ee7a2c" stroke-width="1.5"/><circle cx="71" cy="512.3" r="1.7" fill="#ee7a2c"/>
<text x="83" y="516.10" font-family="Liberation Sans, Arial, sans-serif" font-size="10.4" fill="#222">H3B-6527 100 mg/kg PO BID *</text>
<path d="M64.5 526.0H77.5" stroke="#1b8391" stroke-width="1.5"/><circle cx="71" cy="526.0" r="1.7" fill="#1b8391"/>
<text x="83" y="529.80" font-family="Liberation Sans, Arial, sans-serif" font-size="10.4" fill="#222">H3B-6527 30 mg/kg PO BID</text>
<path d="M57.3 533.5V651H219.1" stroke="#111" stroke-width="1.4" fill="none"/>
<path d="M53.5 651.00H57.3" stroke="#111" stroke-width="1.2"/>
<text x="51.5" y="654.20" font-family="Liberation Sans, Arial, sans-serif" font-size="8.3" font-weight="bold" text-anchor="end" fill="#222">0</text>
<path d="M53.5 617.30H57.3" stroke="#111" stroke-width="1.2"/>
<text x="51.5" y="620.50" font-family="Liberation Sans, Arial, sans-serif" font-size="8.3" font-weight="bold" text-anchor="end" fill="#222">500</text>
<path d="M53.5 583.60H57.3" stroke="#111" stroke-width="1.2"/>
<text x="51.5" y="586.80" font-family="Liberation Sans, Arial, sans-serif" font-size="8.3" font-weight="bold" text-anchor="end" fill="#222">1,000</text>
<path d="M53.5 549.90H57.3" stroke="#111" stroke-width="1.2"/>
<text x="51.5" y="553.10" font-family="Liberation Sans, Arial, sans-serif" font-size="8.3" font-weight="bold" text-anchor="end" fill="#222">1,500</text>
<path d="M58.10 651v4" stroke="#111" stroke-width="1.2"/>
<text x="58.10" y="663.8" font-family="Liberation Sans, Arial, sans-serif" font-size="8.4" font-weight="bold" text-anchor="middle" fill="#222">0</text>
<path d="M111.60 651v4" stroke="#111" stroke-width="1.2"/>
<text x="111.60" y="663.8" font-family="Liberation Sans, Arial, sans-serif" font-size="8.4" font-weight="bold" text-anchor="middle" fill="#222">5</text>
<path d="M165.10 651v4" stroke="#111" stroke-width="1.2"/>
<text x="165.10" y="663.8" font-family="Liberation Sans, Arial, sans-serif" font-size="8.4" font-weight="bold" text-anchor="middle" fill="#222">10</text>
<path d="M218.60 651v4" stroke="#111" stroke-width="1.2"/>
<text x="218.60" y="663.8" font-family="Liberation Sans, Arial, sans-serif" font-size="8.4" font-weight="bold" text-anchor="middle" fill="#222">15</text>
<text transform="translate(11.3,592) rotate(-90)" font-family="Liberation Sans, Arial, sans-serif" font-size="11" letter-spacing="0.1" text-anchor="middle" fill="#222">Tumor volume (mm<tspan font-size="7" dy="-3.8">3</tspan><tspan dy="3.8">)</tspan></text>
<text transform="translate(24.2,592) rotate(-90)" font-family="Liberation Sans, Arial, sans-serif" font-size="11" letter-spacing="0.45" text-anchor="middle" fill="#222">(Mean ± SEM)</text>
<text x="138" y="677.5" font-family="Liberation Sans, Arial, sans-serif" font-size="10.6" text-anchor="middle" fill="#222">Day of treatment</text>
<polyline points="58.10,638.87 90.20,640.89 133.00,647.97 165.10,649.32 197.20,649.65 218.60,649.92" fill="none" stroke="#d8312a" stroke-width="2.1" stroke-linejoin="round"/>
<path d="M90.20 641.90V639.88M88.60 641.90H91.80M88.60 639.88H91.80M133.00 648.78V647.16M131.40 648.78H134.60M131.40 647.16H134.60M165.10 649.72V648.91M163.50 649.72H166.70M163.50 648.91H166.70M197.20 649.92V649.38M195.60 649.92H198.80M195.60 649.38H198.80M218.60 650.19V649.65M217.00 650.19H220.20M217.00 649.65H220.20" stroke="#d8312a" stroke-width="1.6" fill="none"/>
<circle cx="58.10" cy="638.87" r="1.7" fill="#d8312a"/>
<circle cx="90.20" cy="640.89" r="1.7" fill="#d8312a"/>
<circle cx="133.00" cy="647.97" r="1.7" fill="#d8312a"/>
<circle cx="165.10" cy="649.32" r="1.7" fill="#d8312a"/>
<circle cx="197.20" cy="649.65" r="1.7" fill="#d8312a"/>
<circle cx="218.60" cy="649.92" r="1.7" fill="#d8312a"/>
<polyline points="58.10,638.87 90.20,639.54 133.00,640.89 165.10,642.04 197.20,644.26 218.60,645.41" fill="none" stroke="#ee7a2c" stroke-width="2.1" stroke-linejoin="round"/>
<path d="M90.20 640.55V638.53M88.60 640.55H91.80M88.60 638.53H91.80M133.00 642.58V639.21M131.40 642.58H134.60M131.40 639.21H134.60M165.10 643.72V640.35M163.50 643.72H166.70M163.50 640.35H166.70M197.20 645.95V642.58M195.60 645.95H198.80M195.60 642.58H198.80M218.60 647.09V643.72M217.00 647.09H220.20M217.00 643.72H220.20" stroke="#ee7a2c" stroke-width="1.6" fill="none"/>
<circle cx="58.10" cy="638.87" r="1.7" fill="#ee7a2c"/>
<circle cx="90.20" cy="639.54" r="1.7" fill="#ee7a2c"/>
<circle cx="133.00" cy="640.89" r="1.7" fill="#ee7a2c"/>
<circle cx="165.10" cy="642.04" r="1.7" fill="#ee7a2c"/>
<circle cx="197.20" cy="644.26" r="1.7" fill="#ee7a2c"/>
<circle cx="218.60" cy="645.41" r="1.7" fill="#ee7a2c"/>
<polyline points="58.10,638.87 90.20,634.15 133.00,622.02 165.10,607.86 197.20,595.06 218.60,590.34" fill="none" stroke="#1b8391" stroke-width="2.1" stroke-linejoin="round"/>
<path d="M90.20 636.17V632.13M88.60 636.17H91.80M88.60 632.13H91.80M133.00 628.08V615.95M131.40 628.08H134.60M131.40 615.95H134.60M165.10 616.63V599.10M163.50 616.63H166.70M163.50 599.10H166.70M197.20 610.56V579.56M195.60 610.56H198.80M195.60 579.56H198.80M218.60 607.86V572.82M217.00 607.86H220.20M217.00 572.82H220.20" stroke="#1b8391" stroke-width="1.6" fill="none"/>
<circle cx="58.10" cy="638.87" r="1.7" fill="#1b8391"/>
<circle cx="90.20" cy="634.15" r="1.7" fill="#1b8391"/>
<circle cx="133.00" cy="622.02" r="1.7" fill="#1b8391"/>
<circle cx="165.10" cy="607.86" r="1.7" fill="#1b8391"/>
<circle cx="197.20" cy="595.06" r="1.7" fill="#1b8391"/>
<circle cx="218.60" cy="590.34" r="1.7" fill="#1b8391"/>
<polyline points="58.10,638.87 90.20,632.80 133.00,613.93 165.10,593.71 197.20,575.51 218.60,563.38" fill="none" stroke="#2a328c" stroke-width="2.1" stroke-linejoin="round"/>
<path d="M90.20 634.82V630.78M88.60 634.82H91.80M88.60 630.78H91.80M133.00 620.67V607.19M131.40 620.67H134.60M131.40 607.19H134.60M165.10 603.82V583.60M163.50 603.82H166.70M163.50 583.60H166.70M197.20 593.04V557.99M195.60 593.04H198.80M195.60 557.99H198.80M218.60 582.93V543.83M217.00 582.93H220.20M217.00 543.83H220.20" stroke="#2a328c" stroke-width="1.6" fill="none"/>
<circle cx="58.10" cy="638.87" r="1.7" fill="#2a328c"/>
<circle cx="90.20" cy="632.80" r="1.7" fill="#2a328c"/>
<circle cx="133.00" cy="613.93" r="1.7" fill="#2a328c"/>
<circle cx="165.10" cy="593.71" r="1.7" fill="#2a328c"/>
<circle cx="197.20" cy="575.51" r="1.7" fill="#2a328c"/>
<circle cx="218.60" cy="563.38" r="1.7" fill="#2a328c"/>
</g>
<g id="panelD">
<text x="280.9" y="484.8" font-family="Liberation Sans, Arial, sans-serif" font-size="18.4" font-weight="bold" fill="#111">D</text>
<path d="M355 489.5H367.3" stroke="#2a328c" stroke-width="1.5"/><circle cx="361.2" cy="489.5" r="1.7" fill="#2a328c"/>
<text x="374" y="493.30" font-family="Liberation Sans, Arial, sans-serif" font-size="10.5" fill="#222">H3B-6527 Vehicle PO BID</text>
<path d="M355 503.17H367.3" stroke="#e3321d" stroke-width="1.5"/><circle cx="361.2" cy="503.17" r="1.7" fill="#e3321d"/>
<text x="374" y="506.97" font-family="Liberation Sans, Arial, sans-serif" font-size="10.5" fill="#222">H3B-6527 300 mg/kg PO BID</text>
<path d="M355 516.84H367.3" stroke="#ee7a2c" stroke-width="1.5"/><circle cx="361.2" cy="516.84" r="1.7" fill="#ee7a2c"/>
<text x="374" y="520.64" font-family="Liberation Sans, Arial, sans-serif" font-size="10.5" fill="#222">H3B-6527 100 mg/kg PO BID</text>
<path d="M355 530.51H367.3" stroke="#2aa3bd" stroke-width="1.5"/><circle cx="361.2" cy="530.51" r="1.7" fill="#2aa3bd"/>
<text x="374" y="534.31" font-family="Liberation Sans, Arial, sans-serif" font-size="10.5" fill="#222">H3B-6527 30 mg/kg PO BID</text>
<path d="M348.5 538.4000000000001V655.5H515.5" stroke="#111" stroke-width="1.3" fill="none"/>
<path d="M344.5 538.90H348.5" stroke="#111" stroke-width="1.2"/>
<text x="343.5" y="541.80" font-family="Liberation Sans, Arial, sans-serif" font-size="8" font-weight="bold" text-anchor="end" fill="#222">20</text>
<path d="M344.5 568.05H348.5" stroke="#111" stroke-width="1.2"/>
<text x="343.5" y="570.95" font-family="Liberation Sans, Arial, sans-serif" font-size="8" font-weight="bold" text-anchor="end" fill="#222">10</text>
<path d="M344.5 597.20H348.5" stroke="#111" stroke-width="1.2"/>
<text x="343.5" y="600.10" font-family="Liberation Sans, Arial, sans-serif" font-size="8" font-weight="bold" text-anchor="end" fill="#222">0</text>
<path d="M344.5 626.35H348.5" stroke="#111" stroke-width="1.2"/>
<text x="343.5" y="629.25" font-family="Liberation Sans, Arial, sans-serif" font-size="8" font-weight="bold" text-anchor="end" fill="#222">-10</text>
<path d="M344.5 655.50H348.5" stroke="#111" stroke-width="1.2"/>
<text x="343.5" y="658.40" font-family="Liberation Sans, Arial, sans-serif" font-size="8" font-weight="bold" text-anchor="end" fill="#222">-20</text>
<path d="M348.50 655.5v4" stroke="#111" stroke-width="1.2"/>
<text x="348.50" y="668.0" font-family="Liberation Sans, Arial, sans-serif" font-size="8.4" font-weight="bold" text-anchor="middle" fill="#222">0</text>
<path d="M404.00 655.5v4" stroke="#111" stroke-width="1.2"/>
<text x="404.00" y="668.0" font-family="Liberation Sans, Arial, sans-serif" font-size="8.4" font-weight="bold" text-anchor="middle" fill="#222">5</text>
<path d="M459.50 655.5v4" stroke="#111" stroke-width="1.2"/>
<text x="459.50" y="668.0" font-family="Liberation Sans, Arial, sans-serif" font-size="8.4" font-weight="bold" text-anchor="middle" fill="#222">10</text>
<path d="M515.00 655.5v4" stroke="#111" stroke-width="1.2"/>
<text x="515.00" y="668.0" font-family="Liberation Sans, Arial, sans-serif" font-size="8.4" font-weight="bold" text-anchor="middle" fill="#222">15</text>
<text transform="translate(314,598) rotate(-90)" font-family="Liberation Sans, Arial, sans-serif" font-size="10.8" text-anchor="middle" fill="#222">Percent body weight change</text>
<text transform="translate(327,597.5) rotate(-90)" font-family="Liberation Sans, Arial, sans-serif" font-size="10.8" letter-spacing="0.45" text-anchor="middle" fill="#222">(mean ± SEM)</text>
<text x="432.5" y="682.7" font-family="Liberation Sans, Arial, sans-serif" font-size="11.1" text-anchor="middle" fill="#222" xml:space="preserve">Day of  treatment</text>
<polyline points="348.50,597.20 370.70,595.74 381.80,591.95 392.90,604.49 404.00,607.40 415.10,609.44 426.20,614.69 437.30,620.52 448.40,624.89 459.50,623.44 470.60,630.72 481.70,629.27 492.80,636.55 503.90,642.38 515.00,645.30" fill="none" stroke="#2aa3bd" stroke-width="2.1" stroke-linejoin="round"/>
<path d="M370.70 597.20V594.29M368.90 597.20H372.50M368.90 594.29H372.50M381.80 593.70V590.20M380.00 593.70H383.60M380.00 590.20H383.60M392.90 607.40V601.57M391.10 607.40H394.70M391.10 601.57H394.70M404.00 610.90V603.90M402.20 610.90H405.80M402.20 603.90H405.80M415.10 612.94V605.95M413.30 612.94H416.90M413.30 605.95H416.90M426.20 618.48V610.90M424.40 618.48H428.00M424.40 610.90H428.00M437.30 624.89V616.15M435.50 624.89H439.10M435.50 616.15H439.10M448.40 630.14V619.65M446.60 630.14H450.20M446.60 619.65H450.20M459.50 629.27V617.61M457.70 629.27H461.30M457.70 617.61H461.30M470.60 635.97V625.48M468.80 635.97H472.40M468.80 625.48H472.40M481.70 634.51V624.02M479.90 634.51H483.50M479.90 624.02H483.50M492.80 641.80V631.31M491.00 641.80H494.60M491.00 631.31H494.60M503.90 648.21V636.55M502.10 648.21H505.70M502.10 636.55H505.70M515.00 650.54V640.05M513.20 650.54H516.80M513.20 640.05H516.80" stroke="#2aa3bd" stroke-width="1.6" fill="none"/>
<circle cx="348.50" cy="597.20" r="1.7" fill="#2aa3bd"/>
<circle cx="370.70" cy="595.74" r="1.7" fill="#2aa3bd"/>
<circle cx="381.80" cy="591.95" r="1.7" fill="#2aa3bd"/>
<circle cx="392.90" cy="604.49" r="1.7" fill="#2aa3bd"/>
<circle cx="404.00" cy="607.40" r="1.7" fill="#2aa3bd"/>
<circle cx="415.10" cy="609.44" r="1.7" fill="#2aa3bd"/>
<circle cx="426.20" cy="614.69" r="1.7" fill="#2aa3bd"/>
<circle cx="437.30" cy="620.52" r="1.7" fill="#2aa3bd"/>
<circle cx="448.40" cy="624.89" r="1.7" fill="#2aa3bd"/>
<circle cx="459.50" cy="623.44" r="1.7" fill="#2aa3bd"/>
<circle cx="470.60" cy="630.72" r="1.7" fill="#2aa3bd"/>
<circle cx="481.70" cy="629.27" r="1.7" fill="#2aa3bd"/>
<circle cx="492.80" cy="636.55" r="1.7" fill="#2aa3bd"/>
<circle cx="503.90" cy="642.38" r="1.7" fill="#2aa3bd"/>
<circle cx="515.00" cy="645.30" r="1.7" fill="#2aa3bd"/>
<polyline points="348.50,597.20 370.70,596.33 381.80,592.83 392.90,594.29 404.00,592.83 415.10,593.70 426.20,594.87 437.30,595.74 448.40,593.70 459.50,589.04 470.60,594.87 481.70,595.74 492.80,598.66 503.90,595.74 515.00,598.07" fill="none" stroke="#ee7a2c" stroke-width="2.1" stroke-linejoin="round"/>
<path d="M370.70 597.49V595.16M368.90 597.49H372.50M368.90 595.16H372.50M381.80 594.29V591.37M380.00 594.29H383.60M380.00 591.37H383.60M392.90 596.62V591.95M391.10 596.62H394.70M391.10 591.95H394.70M404.00 595.74V589.91M402.20 595.74H405.80M402.20 589.91H405.80M415.10 596.62V590.79M413.30 596.62H416.90M413.30 590.79H416.90M426.20 597.78V591.95M424.40 597.78H428.00M424.40 591.95H428.00M437.30 598.66V592.83M435.50 598.66H439.10M435.50 592.83H439.10M448.40 596.62V590.79M446.60 596.62H450.20M446.60 590.79H450.20M459.50 592.54V585.54M457.70 592.54H461.30M457.70 585.54H461.30M470.60 597.78V591.95M468.80 597.78H472.40M468.80 591.95H472.40M481.70 598.66V592.83M479.90 598.66H483.50M479.90 592.83H483.50M492.80 601.57V595.74M491.00 601.57H494.60M491.00 595.74H494.60M503.90 598.66V592.83M502.10 598.66H505.70M502.10 592.83H505.70M515.00 600.99V595.16M513.20 600.99H516.80M513.20 595.16H516.80" stroke="#ee7a2c" stroke-width="1.6" fill="none"/>
<circle cx="348.50" cy="597.20" r="1.7" fill="#ee7a2c"/>
<circle cx="370.70" cy="596.33" r="1.7" fill="#ee7a2c"/>
<circle cx="381.80" cy="592.83" r="1.7" fill="#ee7a2c"/>
<circle cx="392.90" cy="594.29" r="1.7" fill="#ee7a2c"/>
<circle cx="404.00" cy="592.83" r="1.7" fill="#ee7a2c"/>
<circle cx="415.10" cy="593.70" r="1.7" fill="#ee7a2c"/>
<circle cx="426.20" cy="594.87" r="1.7" fill="#ee7a2c"/>
<circle cx="437.30" cy="595.74" r="1.7" fill="#ee7a2c"/>
<circle cx="448.40" cy="593.70" r="1.7" fill="#ee7a2c"/>
<circle cx="459.50" cy="589.04" r="1.7" fill="#ee7a2c"/>
<circle cx="470.60" cy="594.87" r="1.7" fill="#ee7a2c"/>
<circle cx="481.70" cy="595.74" r="1.7" fill="#ee7a2c"/>
<circle cx="492.80" cy="598.66" r="1.7" fill="#ee7a2c"/>
<circle cx="503.90" cy="595.74" r="1.7" fill="#ee7a2c"/>
<circle cx="515.00" cy="598.07" r="1.7" fill="#ee7a2c"/>
<polyline points="348.50,597.20 370.70,599.53 381.80,594.29 392.90,593.70 404.00,594.29 415.10,592.83 426.20,591.37 437.30,594.87 448.40,594.29 459.50,588.46 470.60,595.74 481.70,598.66 492.80,602.45 503.90,598.66 515.00,601.57" fill="none" stroke="#e3321d" stroke-width="2.1" stroke-linejoin="round"/>
<path d="M370.70 600.70V598.37M368.90 600.70H372.50M368.90 598.37H372.50M381.80 595.74V592.83M380.00 595.74H383.60M380.00 592.83H383.60M392.90 596.62V590.79M391.10 596.62H394.70M391.10 590.79H394.70M404.00 597.78V590.79M402.20 597.78H405.80M402.20 590.79H405.80M415.10 597.20V588.46M413.30 597.20H416.90M413.30 588.46H416.90M426.20 595.74V587.00M424.40 595.74H428.00M424.40 587.00H428.00M437.30 598.66V591.08M435.50 598.66H439.10M435.50 591.08H439.10M448.40 598.66V589.91M446.60 598.66H450.20M446.60 589.91H450.20M459.50 592.83V584.08M457.70 592.83H461.30M457.70 584.08H461.30M470.60 599.24V592.24M468.80 599.24H472.40M468.80 592.24H472.40M481.70 602.16V595.16M479.90 602.16H483.50M479.90 595.16H483.50M492.80 606.82V598.07M491.00 606.82H494.60M491.00 598.07H494.60M503.90 602.16V595.16M502.10 602.16H505.70M502.10 595.16H505.70M515.00 605.07V598.07M513.20 605.07H516.80M513.20 598.07H516.80" stroke="#e3321d" stroke-width="1.6" fill="none"/>
<circle cx="348.50" cy="597.20" r="1.7" fill="#e3321d"/>
<circle cx="370.70" cy="599.53" r="1.7" fill="#e3321d"/>
<circle cx="381.80" cy="594.29" r="1.7" fill="#e3321d"/>
<circle cx="392.90" cy="593.70" r="1.7" fill="#e3321d"/>
<circle cx="404.00" cy="594.29" r="1.7" fill="#e3321d"/>
<circle cx="415.10" cy="592.83" r="1.7" fill="#e3321d"/>
<circle cx="426.20" cy="591.37" r="1.7" fill="#e3321d"/>
<circle cx="437.30" cy="594.87" r="1.7" fill="#e3321d"/>
<circle cx="448.40" cy="594.29" r="1.7" fill="#e3321d"/>
<circle cx="459.50" cy="588.46" r="1.7" fill="#e3321d"/>
<circle cx="470.60" cy="595.74" r="1.7" fill="#e3321d"/>
<circle cx="481.70" cy="598.66" r="1.7" fill="#e3321d"/>
<circle cx="492.80" cy="602.45" r="1.7" fill="#e3321d"/>
<circle cx="503.90" cy="598.66" r="1.7" fill="#e3321d"/>
<circle cx="515.00" cy="601.57" r="1.7" fill="#e3321d"/>
<polyline points="348.50,597.20 370.70,595.16 381.80,589.62 392.90,600.12 404.00,601.57 415.10,605.95 426.20,601.57 437.30,607.40 448.40,613.23 459.50,604.49 470.60,617.61 481.70,626.35 492.80,626.93 503.90,629.27 515.00,627.81" fill="none" stroke="#2a328c" stroke-width="2.1" stroke-linejoin="round"/>
<path d="M370.70 596.62V593.70M368.90 596.62H372.50M368.90 593.70H372.50M381.80 591.37V587.87M380.00 591.37H383.60M380.00 587.87H383.60M392.90 603.03V597.20M391.10 603.03H394.70M391.10 597.20H394.70M404.00 605.07V598.07M402.20 605.07H405.80M402.20 598.07H405.80M415.10 609.44V602.45M413.30 609.44H416.90M413.30 602.45H416.90M426.20 605.07V598.07M424.40 605.07H428.00M424.40 598.07H428.00M437.30 610.90V603.90M435.50 610.90H439.10M435.50 603.90H439.10M448.40 617.61V608.86M446.60 617.61H450.20M446.60 608.86H450.20M459.50 610.32V598.66M457.70 610.32H461.30M457.70 598.66H461.30M470.60 621.98V613.23M468.80 621.98H472.40M468.80 613.23H472.40M481.70 630.14V622.56M479.90 630.14H483.50M479.90 622.56H483.50M492.80 630.43V623.44M491.00 630.43H494.60M491.00 623.44H494.60M503.90 632.76V625.77M502.10 632.76H505.70M502.10 625.77H505.70M515.00 631.31V624.31M513.20 631.31H516.80M513.20 624.31H516.80" stroke="#2a328c" stroke-width="1.6" fill="none"/>
<circle cx="348.50" cy="597.20" r="1.7" fill="#2a328c"/>
<circle cx="370.70" cy="595.16" r="1.7" fill="#2a328c"/>
<circle cx="381.80" cy="589.62" r="1.7" fill="#2a328c"/>
<circle cx="392.90" cy="600.12" r="1.7" fill="#2a328c"/>
<circle cx="404.00" cy="601.57" r="1.7" fill="#2a328c"/>
<circle cx="415.10" cy="605.95" r="1.7" fill="#2a328c"/>
<circle cx="426.20" cy="601.57" r="1.7" fill="#2a328c"/>
<circle cx="437.30" cy="607.40" r="1.7" fill="#2a328c"/>
<circle cx="448.40" cy="613.23" r="1.7" fill="#2a328c"/>
<circle cx="459.50" cy="604.49" r="1.7" fill="#2a328c"/>
<circle cx="470.60" cy="617.61" r="1.7" fill="#2a328c"/>
<circle cx="481.70" cy="626.35" r="1.7" fill="#2a328c"/>
<circle cx="492.80" cy="626.93" r="1.7" fill="#2a328c"/>
<circle cx="503.90" cy="629.27" r="1.7" fill="#2a328c"/>
<circle cx="515.00" cy="627.81" r="1.7" fill="#2a328c"/>
</g>
</svg>
</body></html>
